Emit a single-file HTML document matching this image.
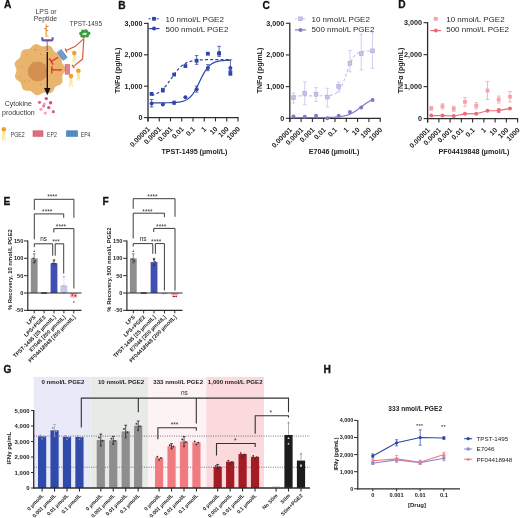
<!DOCTYPE html>
<html><head><meta charset="utf-8"><style>
html,body{margin:0;padding:0;background:#fff;}
svg{display:block;font-family:'Liberation Sans',Arial,sans-serif;}
</style></head><body>
<svg width="520" height="518" viewBox="0 0 520 518">
<rect width="520" height="518" fill="#fff"/>
<text x="3.90" y="8.20" font-size="10.2" font-weight="bold" text-anchor="start" fill="#111" stroke="#111" stroke-width="0.3">A</text>
<text x="118.20" y="9.00" font-size="10.2" font-weight="bold" text-anchor="start" fill="#111" stroke="#111" stroke-width="0.3">B</text>
<text x="262.40" y="9.00" font-size="10.2" font-weight="bold" text-anchor="start" fill="#111" stroke="#111" stroke-width="0.3">C</text>
<text x="398.20" y="8.20" font-size="10.2" font-weight="bold" text-anchor="start" fill="#111" stroke="#111" stroke-width="0.3">D</text>
<text x="3.60" y="204.90" font-size="10.2" font-weight="bold" text-anchor="start" fill="#111" stroke="#111" stroke-width="0.3">E</text>
<text x="102.60" y="204.90" font-size="10.2" font-weight="bold" text-anchor="start" fill="#111" stroke="#111" stroke-width="0.3">F</text>
<text x="3.60" y="373.40" font-size="10.2" font-weight="bold" text-anchor="start" fill="#111" stroke="#111" stroke-width="0.3">G</text>
<text x="323.60" y="373.40" font-size="10.2" font-weight="bold" text-anchor="start" fill="#111" stroke="#111" stroke-width="0.3">H</text>
<text x="46.00" y="13.50" font-size="6.9" font-weight="normal" text-anchor="middle" fill="#3c3c3c">LPS or</text>
<text x="45.40" y="20.90" font-size="6.9" font-weight="normal" text-anchor="middle" fill="#3c3c3c">Peptide</text>
<text x="85.80" y="26.10" font-size="6.4" font-weight="normal" text-anchor="middle" fill="#3c3c3c">TPST-1495</text>
<path d="M65.59,69.60 L65.35,70.49 L64.94,71.36 L64.41,72.19 L63.84,72.98 L63.28,73.74 L62.81,74.49 L62.47,75.25 L62.28,76.05 L62.22,76.89 L62.28,77.78 L62.39,78.73 L62.49,79.70 L62.53,80.68 L62.43,81.63 L62.16,82.51 L61.71,83.29 L61.08,83.95 L60.31,84.50 L59.44,84.94 L58.52,85.31 L57.63,85.65 L56.80,86.01 L56.06,86.44 L55.43,86.96 L54.90,87.59 L54.44,88.34 L54.02,89.18 L53.60,90.05 L53.12,90.91 L52.56,91.70 L51.90,92.35 L51.13,92.83 L50.27,93.12 L49.35,93.23 L48.38,93.17 L47.41,93.01 L46.46,92.81 L45.54,92.64 L44.68,92.55 L43.85,92.60 L43.06,92.79 L42.27,93.13 L41.48,93.58 L40.65,94.08 L39.80,94.57 L38.91,94.97 L38.01,95.23 L37.10,95.30 L36.21,95.16 L35.36,94.81 L34.55,94.29 L33.80,93.66 L33.10,92.97 L32.42,92.31 L31.75,91.73 L31.04,91.27 L30.29,90.95 L29.47,90.77 L28.59,90.69 L27.64,90.66 L26.66,90.63 L25.68,90.53 L24.75,90.31 L23.91,89.94 L23.19,89.39 L22.61,88.69 L22.17,87.86 L21.84,86.94 L21.60,85.98 L21.39,85.05 L21.16,84.16 L20.86,83.36 L20.44,82.66 L19.90,82.04 L19.23,81.48 L18.47,80.94 L17.67,80.40 L16.88,79.81 L16.17,79.15 L15.60,78.41 L15.22,77.59 L15.03,76.70 L15.05,75.77 L15.22,74.82 L15.51,73.88 L15.85,72.97 L16.15,72.09 L16.37,71.24 L16.46,70.42 L16.39,69.60 L16.18,68.78 L15.86,67.93 L15.48,67.04 L15.12,66.13 L14.83,65.20 L14.69,64.26 L14.73,63.35 L14.98,62.48 L15.43,61.68 L16.05,60.95 L16.77,60.30 L17.55,59.69 L18.30,59.12 L18.99,58.53 L19.55,57.91 L19.98,57.22 L20.29,56.44 L20.50,55.58 L20.67,54.65 L20.84,53.69 L21.07,52.73 L21.40,51.83 L21.88,51.04 L22.51,50.39 L23.27,49.90 L24.15,49.57 L25.10,49.37 L26.08,49.26 L27.05,49.19 L27.96,49.09 L28.80,48.91 L29.56,48.61 L30.26,48.18 L30.91,47.61 L31.55,46.94 L32.20,46.22 L32.89,45.52 L33.64,44.90 L34.45,44.43 L35.31,44.14 L36.21,44.07 L37.13,44.20 L38.04,44.50 L38.94,44.91 L39.80,45.37 L40.63,45.80 L41.44,46.15 L42.24,46.37 L43.06,46.43 L43.90,46.35 L44.78,46.16 L45.70,45.92 L46.66,45.68 L47.62,45.52 L48.57,45.50 L49.48,45.65 L50.30,46.01 L51.04,46.55 L51.68,47.25 L52.24,48.06 L52.73,48.91 L53.19,49.74 L53.67,50.51 L54.20,51.17 L54.82,51.71 L55.53,52.13 L56.34,52.47 L57.24,52.76 L58.17,53.06 L59.08,53.42 L59.93,53.87 L60.66,54.44 L61.23,55.15 L61.62,55.96 L61.84,56.88 L61.91,57.84 L61.89,58.83 L61.82,59.79 L61.79,60.72 L61.83,61.58 L62.01,62.38 L62.33,63.14 L62.78,63.87 L63.35,64.59 L63.97,65.34 L64.57,66.12 L65.08,66.94 L65.45,67.81 L65.63,68.70 L65.59,69.60Z" fill="#e9b56c"/>
<circle cx="40.91" cy="84.27" r="0.55" fill="#c27e40"/>
<circle cx="29.08" cy="81.02" r="0.55" fill="#c27e40"/>
<circle cx="34.84" cy="64.59" r="0.55" fill="#c27e40"/>
<circle cx="59.13" cy="71.20" r="0.55" fill="#c27e40"/>
<circle cx="39.23" cy="79.33" r="0.55" fill="#c27e40"/>
<circle cx="53.32" cy="69.23" r="0.55" fill="#c27e40"/>
<circle cx="46.84" cy="57.94" r="0.55" fill="#c27e40"/>
<circle cx="34.40" cy="63.15" r="0.55" fill="#c27e40"/>
<circle cx="26.63" cy="54.69" r="0.55" fill="#c27e40"/>
<circle cx="22.13" cy="67.01" r="0.55" fill="#c27e40"/>
<circle cx="36.47" cy="63.41" r="0.55" fill="#c27e40"/>
<circle cx="40.60" cy="54.16" r="0.55" fill="#c27e40"/>
<circle cx="37.74" cy="75.76" r="0.55" fill="#c27e40"/>
<circle cx="48.80" cy="59.46" r="0.55" fill="#c27e40"/>
<circle cx="35.90" cy="49.92" r="0.55" fill="#c27e40"/>
<circle cx="35.17" cy="49.39" r="0.55" fill="#c27e40"/>
<circle cx="24.94" cy="81.13" r="0.55" fill="#c27e40"/>
<circle cx="20.09" cy="76.75" r="0.55" fill="#c27e40"/>
<circle cx="45.27" cy="64.39" r="0.55" fill="#c27e40"/>
<circle cx="46.02" cy="76.74" r="0.55" fill="#c27e40"/>
<circle cx="52.47" cy="66.81" r="0.55" fill="#c27e40"/>
<circle cx="32.23" cy="61.87" r="0.55" fill="#c27e40"/>
<circle cx="37.60" cy="71.40" r="9.90" fill="#d48f52"/>
<line x1="47.20" y1="40.50" x2="47.20" y2="51.00" stroke="#55487a" stroke-width="0.8"/>
<path d="M41.3,37.2 L41.3,39.6 Q41.3,41.6 43.5,41.6 L51.2,41.6 Q53.6,41.6 53.6,39.6 L53.6,37.2 L51.6,37.2 L51.6,39.2 L43.3,39.2 L43.3,37.2 Z" fill="#6e4fae"/>
<path d="M46.2,24.5 L46.2,37" stroke="#e8a040" stroke-width="1.3"/>
<path d="M46.2,26.5 L48.6,26.5 M44,28.7 L46.2,28.7 M46.2,30.6 L48.2,30.6" stroke="#d07830" stroke-width="0.9"/>
<path d="M46.2,33 Q46.2,36.4 48.6,36.2" stroke="#f0c860" stroke-width="1.2" fill="none"/>
<line x1="47.30" y1="52.00" x2="47.30" y2="89.00" stroke="#111" stroke-width="1.3"/>
<polygon points="44.1,88 50.5,88 47.3,95.3" fill="#111"/>
<path d="M58.3,57.2 L51.2,61.5 M49.3,58.4 L53.1,64.6" stroke="#e3262b" stroke-width="1.2" fill="none"/>
<path d="M62,69.9 L51.8,69.9 M51.8,66.4 L51.8,73.4" stroke="#e3262b" stroke-width="1.2" fill="none"/>
<g transform="translate(62.3,54.9) rotate(-37)"><rect x="-2.6" y="-5.3" width="5.2" height="10.6" fill="#3f7cbc"/><line x1="-1.56" y1="-5.3" x2="-1.56" y2="5.3" stroke="#b4d0ec" stroke-width="0.5"/><line x1="-0.52" y1="-5.3" x2="-0.52" y2="5.3" stroke="#b4d0ec" stroke-width="0.5"/><line x1="0.52" y1="-5.3" x2="0.52" y2="5.3" stroke="#b4d0ec" stroke-width="0.5"/><line x1="1.56" y1="-5.3" x2="1.56" y2="5.3" stroke="#b4d0ec" stroke-width="0.5"/><rect x="-2.6" y="-5.8" width="5.2" height="1.0" fill="#a8c8e8"/></g>
<g transform="translate(67.35,69.3)"><rect x="-2.45" y="-5.3" width="4.9" height="10.6" fill="#d05a6a"/><line x1="-1.47" y1="-5.3" x2="-1.47" y2="5.3" stroke="#f4b8c0" stroke-width="0.5"/><line x1="-0.49" y1="-5.3" x2="-0.49" y2="5.3" stroke="#f4b8c0" stroke-width="0.5"/><line x1="0.49" y1="-5.3" x2="0.49" y2="5.3" stroke="#f4b8c0" stroke-width="0.5"/><line x1="1.47" y1="-5.3" x2="1.47" y2="5.3" stroke="#f4b8c0" stroke-width="0.5"/></g>
<path d="M83.8,38.6 L75.5,46.2 L66.0,50.6" stroke="#e0532a" stroke-width="1.15" fill="none" stroke-linejoin="round"/>
<path d="M65.2,48.6 L66.9,52.6" stroke="#e0532a" stroke-width="1.2" fill="none"/>
<path d="M83.8,38.6 L82.6,59.0 L73.2,66.6" stroke="#e0532a" stroke-width="1.15" fill="none" stroke-linejoin="round"/>
<path d="M71.9,64.9 L74.3,68.2" stroke="#e0532a" stroke-width="1.2" fill="none"/>
<circle cx="80.90" cy="33.60" r="1.80" fill="#3a9a3a"/>
<circle cx="83.00" cy="31.40" r="1.90" fill="#3a9a3a"/>
<circle cx="86.00" cy="31.20" r="1.90" fill="#3a9a3a"/>
<circle cx="88.60" cy="33.20" r="1.80" fill="#3a9a3a"/>
<circle cx="87.20" cy="35.80" r="1.80" fill="#3a9a3a"/>
<circle cx="84.00" cy="36.20" r="1.80" fill="#3a9a3a"/>
<circle cx="81.80" cy="35.90" r="1.50" fill="#3a9a3a"/>
<circle cx="84.60" cy="33.70" r="1.00" fill="#cfe8c0"/>
<path d="M73.70,54.60 L72.70,63.10 M74.90,54.60 L75.70,63.10 M74.30,55.10 L74.30,61.60" stroke="#f0dc6c" stroke-width="0.7" fill="none"/>
<circle cx="74.30" cy="53.10" r="2.30" fill="#f0a22c"/>
<path d="M77.80,72.20 L76.80,80.70 M79.00,72.20 L79.80,80.70 M78.40,72.70 L78.40,79.20" stroke="#f0dc6c" stroke-width="0.7" fill="none"/>
<circle cx="78.40" cy="70.70" r="2.30" fill="#f0a22c"/>
<path d="M70.40,77.60 L69.40,87.10 M71.60,77.60 L72.40,87.10 M71.00,78.10 L71.00,85.60" stroke="#f0dc6c" stroke-width="0.7" fill="none"/>
<circle cx="71.00" cy="76.10" r="2.30" fill="#f0a22c"/>
<circle cx="46.30" cy="98.60" r="1.70" fill="#dc4a78"/>
<circle cx="39.50" cy="102.30" r="1.60" fill="#e4668c"/>
<circle cx="50.60" cy="102.70" r="1.70" fill="#dc4a78"/>
<circle cx="44.30" cy="104.00" r="1.50" fill="#eea0b8"/>
<circle cx="43.60" cy="105.90" r="1.50" fill="#e47a9c"/>
<circle cx="48.70" cy="107.60" r="1.70" fill="#dc5580"/>
<circle cx="40.90" cy="109.40" r="1.60" fill="#f0a8c0"/>
<circle cx="45.20" cy="113.10" r="1.60" fill="#f0aac2"/>
<circle cx="53.30" cy="111.70" r="1.60" fill="#e06088"/>
<text x="18.30" y="106.20" font-size="7.0" font-weight="normal" text-anchor="middle" fill="#3a3a3a">Cytokine</text>
<text x="18.40" y="115.20" font-size="7.0" font-weight="normal" text-anchor="middle" fill="#3a3a3a">production</text>
<path d="M3.20,130.70 L2.20,141.20 M4.40,130.70 L5.20,141.20 M3.80,131.20 L3.80,139.70" stroke="#f0dc6c" stroke-width="0.7" fill="none"/>
<circle cx="3.80" cy="129.20" r="2.30" fill="#f0a22c"/>
<text x="10.70" y="136.50" font-size="6.4" font-weight="normal" text-anchor="start" fill="#3a3a3a" textLength="14.0" lengthAdjust="spacingAndGlyphs">PGE2</text>
<g transform="translate(38,133.6)"><rect x="-5.3" y="-3.2" width="10.6" height="6.4" fill="#cf5d6b"/><line x1="-3.98" y1="-3.2" x2="-3.98" y2="3.2" stroke="#f0a8b0" stroke-width="0.35"/><line x1="-2.66" y1="-3.2" x2="-2.66" y2="3.2" stroke="#f0a8b0" stroke-width="0.35"/><line x1="-1.34" y1="-3.2" x2="-1.34" y2="3.2" stroke="#f0a8b0" stroke-width="0.35"/><line x1="-0.02" y1="-3.2" x2="-0.02" y2="3.2" stroke="#f0a8b0" stroke-width="0.35"/><line x1="1.30" y1="-3.2" x2="1.30" y2="3.2" stroke="#f0a8b0" stroke-width="0.35"/><line x1="2.62" y1="-3.2" x2="2.62" y2="3.2" stroke="#f0a8b0" stroke-width="0.35"/><line x1="3.94" y1="-3.2" x2="3.94" y2="3.2" stroke="#f0a8b0" stroke-width="0.35"/></g>
<text x="47.00" y="136.50" font-size="6.4" font-weight="normal" text-anchor="start" fill="#3a3a3a" textLength="9.8" lengthAdjust="spacingAndGlyphs">EP2</text>
<g transform="translate(72,133.6)"><rect x="-5.8" y="-3.2" width="11.6" height="6.4" fill="#3d79b8"/><line x1="-4.35" y1="-3.2" x2="-4.35" y2="3.2" stroke="#9cc0e0" stroke-width="0.35"/><line x1="-2.90" y1="-3.2" x2="-2.90" y2="3.2" stroke="#9cc0e0" stroke-width="0.35"/><line x1="-1.45" y1="-3.2" x2="-1.45" y2="3.2" stroke="#9cc0e0" stroke-width="0.35"/><line x1="0.00" y1="-3.2" x2="0.00" y2="3.2" stroke="#9cc0e0" stroke-width="0.35"/><line x1="1.45" y1="-3.2" x2="1.45" y2="3.2" stroke="#9cc0e0" stroke-width="0.35"/><line x1="2.90" y1="-3.2" x2="2.90" y2="3.2" stroke="#9cc0e0" stroke-width="0.35"/><line x1="4.35" y1="-3.2" x2="4.35" y2="3.2" stroke="#9cc0e0" stroke-width="0.35"/></g>
<text x="80.70" y="136.50" font-size="6.4" font-weight="normal" text-anchor="start" fill="#3a3a3a" textLength="9.8" lengthAdjust="spacingAndGlyphs">EP4</text>
<line x1="148.00" y1="22.80" x2="148.00" y2="121.40" stroke="#2c2c2c" stroke-width="1.3"/>
<line x1="147.40" y1="117.60" x2="238.60" y2="117.60" stroke="#2c2c2c" stroke-width="1.3"/>
<line x1="144.00" y1="117.60" x2="148.00" y2="117.60" stroke="#2c2c2c" stroke-width="1.1"/>
<text x="142.40" y="120.10" font-size="7.2" font-weight="bold" text-anchor="end" fill="#222">0</text>
<line x1="144.00" y1="86.20" x2="148.00" y2="86.20" stroke="#2c2c2c" stroke-width="1.1"/>
<text x="142.40" y="88.70" font-size="7.2" font-weight="bold" text-anchor="end" fill="#222">1,000</text>
<line x1="144.00" y1="54.80" x2="148.00" y2="54.80" stroke="#2c2c2c" stroke-width="1.1"/>
<text x="142.40" y="57.30" font-size="7.2" font-weight="bold" text-anchor="end" fill="#222">2,000</text>
<line x1="144.00" y1="23.40" x2="148.00" y2="23.40" stroke="#2c2c2c" stroke-width="1.1"/>
<text x="142.40" y="25.90" font-size="7.2" font-weight="bold" text-anchor="end" fill="#222">3,000</text>
<line x1="148.00" y1="117.60" x2="148.00" y2="121.40" stroke="#2c2c2c" stroke-width="1.1"/>
<text x="150.60" y="129.60" font-size="7.0" font-weight="bold" text-anchor="end" fill="#222" transform="rotate(-45 150.60 129.60)">0.00001</text>
<line x1="159.25" y1="117.60" x2="159.25" y2="121.40" stroke="#2c2c2c" stroke-width="1.1"/>
<text x="161.85" y="129.60" font-size="7.0" font-weight="bold" text-anchor="end" fill="#222" transform="rotate(-45 161.85 129.60)">0.0001</text>
<line x1="170.50" y1="117.60" x2="170.50" y2="121.40" stroke="#2c2c2c" stroke-width="1.1"/>
<text x="173.10" y="129.60" font-size="7.0" font-weight="bold" text-anchor="end" fill="#222" transform="rotate(-45 173.10 129.60)">0.001</text>
<line x1="181.75" y1="117.60" x2="181.75" y2="121.40" stroke="#2c2c2c" stroke-width="1.1"/>
<text x="184.35" y="129.60" font-size="7.0" font-weight="bold" text-anchor="end" fill="#222" transform="rotate(-45 184.35 129.60)">0.01</text>
<line x1="193.00" y1="117.60" x2="193.00" y2="121.40" stroke="#2c2c2c" stroke-width="1.1"/>
<text x="195.60" y="129.60" font-size="7.0" font-weight="bold" text-anchor="end" fill="#222" transform="rotate(-45 195.60 129.60)">0.1</text>
<line x1="204.25" y1="117.60" x2="204.25" y2="121.40" stroke="#2c2c2c" stroke-width="1.1"/>
<text x="206.85" y="129.60" font-size="7.0" font-weight="bold" text-anchor="end" fill="#222" transform="rotate(-45 206.85 129.60)">1</text>
<line x1="215.50" y1="117.60" x2="215.50" y2="121.40" stroke="#2c2c2c" stroke-width="1.1"/>
<text x="218.10" y="129.60" font-size="7.0" font-weight="bold" text-anchor="end" fill="#222" transform="rotate(-45 218.10 129.60)">10</text>
<line x1="226.75" y1="117.60" x2="226.75" y2="121.40" stroke="#2c2c2c" stroke-width="1.1"/>
<text x="229.35" y="129.60" font-size="7.0" font-weight="bold" text-anchor="end" fill="#222" transform="rotate(-45 229.35 129.60)">100</text>
<line x1="238.00" y1="117.60" x2="238.00" y2="121.40" stroke="#2c2c2c" stroke-width="1.1"/>
<text x="240.60" y="129.60" font-size="7.0" font-weight="bold" text-anchor="end" fill="#222" transform="rotate(-45 240.60 129.60)">1000</text>
<text x="194.50" y="154.20" font-size="7.15" font-weight="bold" text-anchor="middle" fill="#222">TPST-1495 (&#181;mol/L)</text>
<text x="119.60" y="70.50" font-size="7.0" font-weight="bold" text-anchor="middle" fill="#222" transform="rotate(-90 119.60 70.50)">TNF&#945; (pg/mL)</text>
<line x1="162.88" y1="88.27" x2="162.88" y2="92.04" stroke="#2f47a6" stroke-width="0.8"/>
<line x1="161.07" y1="88.27" x2="164.68" y2="88.27" stroke="#2f47a6" stroke-width="0.8"/>
<line x1="161.07" y1="92.04" x2="164.68" y2="92.04" stroke="#2f47a6" stroke-width="0.8"/>
<line x1="196.62" y1="55.59" x2="196.62" y2="64.31" stroke="#2f47a6" stroke-width="0.8"/>
<line x1="194.82" y1="55.59" x2="198.43" y2="55.59" stroke="#2f47a6" stroke-width="0.8"/>
<line x1="194.82" y1="64.31" x2="198.43" y2="64.31" stroke="#2f47a6" stroke-width="0.8"/>
<line x1="219.12" y1="46.32" x2="219.12" y2="56.37" stroke="#2f47a6" stroke-width="0.8"/>
<line x1="217.32" y1="46.32" x2="220.93" y2="46.32" stroke="#2f47a6" stroke-width="0.8"/>
<line x1="217.32" y1="56.37" x2="220.93" y2="56.37" stroke="#2f47a6" stroke-width="0.8"/>
<line x1="230.38" y1="71.44" x2="230.38" y2="75.21" stroke="#2f47a6" stroke-width="0.8"/>
<line x1="228.57" y1="71.44" x2="232.18" y2="71.44" stroke="#2f47a6" stroke-width="0.8"/>
<line x1="228.57" y1="75.21" x2="232.18" y2="75.21" stroke="#2f47a6" stroke-width="0.8"/>
<line x1="151.62" y1="99.54" x2="151.62" y2="106.92" stroke="#2f47a6" stroke-width="0.8"/>
<line x1="149.82" y1="99.54" x2="153.43" y2="99.54" stroke="#2f47a6" stroke-width="0.8"/>
<line x1="149.82" y1="106.92" x2="153.43" y2="106.92" stroke="#2f47a6" stroke-width="0.8"/>
<line x1="174.12" y1="101.11" x2="174.12" y2="104.25" stroke="#2f47a6" stroke-width="0.8"/>
<line x1="172.32" y1="101.11" x2="175.93" y2="101.11" stroke="#2f47a6" stroke-width="0.8"/>
<line x1="172.32" y1="104.25" x2="175.93" y2="104.25" stroke="#2f47a6" stroke-width="0.8"/>
<line x1="196.62" y1="86.11" x2="196.62" y2="92.10" stroke="#2f47a6" stroke-width="0.8"/>
<line x1="194.82" y1="86.11" x2="198.43" y2="86.11" stroke="#2f47a6" stroke-width="0.8"/>
<line x1="194.82" y1="92.10" x2="198.43" y2="92.10" stroke="#2f47a6" stroke-width="0.8"/>
<line x1="207.88" y1="64.60" x2="207.88" y2="70.69" stroke="#2f47a6" stroke-width="0.8"/>
<line x1="206.07" y1="64.60" x2="209.68" y2="64.60" stroke="#2f47a6" stroke-width="0.8"/>
<line x1="206.07" y1="70.69" x2="209.68" y2="70.69" stroke="#2f47a6" stroke-width="0.8"/>
<line x1="230.38" y1="59.82" x2="230.38" y2="70.50" stroke="#2f47a6" stroke-width="0.8"/>
<line x1="228.57" y1="59.82" x2="232.18" y2="59.82" stroke="#2f47a6" stroke-width="0.8"/>
<line x1="228.57" y1="70.50" x2="232.18" y2="70.50" stroke="#2f47a6" stroke-width="0.8"/>
<path d="M151.62,95.44 L152.19,95.29 L152.75,95.13 L153.31,94.95 L153.88,94.76 L154.44,94.56 L155.00,94.34 L155.56,94.11 L156.12,93.85 L156.69,93.58 L157.25,93.29 L157.81,92.98 L158.38,92.64 L158.94,92.29 L159.50,91.91 L160.06,91.50 L160.62,91.07 L161.19,90.62 L161.75,90.13 L162.31,89.63 L162.88,89.09 L163.44,88.53 L164.00,87.94 L164.56,87.32 L165.12,86.68 L165.69,86.01 L166.25,85.32 L166.81,84.61 L167.38,83.88 L167.94,83.12 L168.50,82.35 L169.06,81.57 L169.62,80.78 L170.19,79.97 L170.75,79.16 L171.31,78.35 L171.88,77.54 L172.44,76.73 L173.00,75.92 L173.56,75.13 L174.12,74.35 L174.69,73.58 L175.25,72.82 L175.81,72.09 L176.38,71.38 L176.94,70.69 L177.50,70.02 L178.06,69.38 L178.62,68.76 L179.19,68.17 L179.75,67.61 L180.31,67.07 L180.88,66.57 L181.44,66.08 L182.00,65.63 L182.56,65.20 L183.12,64.79 L183.69,64.41 L184.25,64.06 L184.81,63.72 L185.38,63.41 L185.94,63.12 L186.50,62.85 L187.06,62.59 L187.62,62.36 L188.19,62.14 L188.75,61.94 L189.31,61.75 L189.88,61.57 L190.44,61.41 L191.00,61.26 L191.56,61.12 L192.12,60.99 L192.69,60.87 L193.25,60.77 L193.81,60.67 L194.38,60.57 L194.94,60.49 L195.50,60.41 L196.06,60.34 L196.62,60.27 L197.19,60.21 L197.75,60.15 L198.31,60.10 L198.88,60.05 L199.44,60.01 L200.00,59.97 L200.56,59.93 L201.12,59.89 L201.69,59.86 L202.25,59.83 L202.81,59.81 L203.38,59.78 L203.94,59.76 L204.50,59.74 L205.06,59.72 L205.62,59.70 L206.19,59.69 L206.75,59.67 L207.31,59.66 L207.88,59.65 L208.44,59.64 L209.00,59.63 L209.56,59.62 L210.12,59.61 L210.69,59.60 L211.25,59.59 L211.81,59.59 L212.38,59.58 L212.94,59.57 L213.50,59.57 L214.06,59.56 L214.62,59.56 L215.19,59.55 L215.75,59.55 L216.31,59.55 L216.88,59.54 L217.44,59.54 L218.00,59.54 L218.56,59.54 L219.12,59.53 L219.69,59.53 L220.25,59.53 L220.81,59.53 L221.38,59.53 L221.94,59.53 L222.50,59.52 L223.06,59.52 L223.62,59.52 L224.19,59.52 L224.75,59.52 L225.31,59.52 L225.88,59.52 L226.44,59.52 L227.00,59.52 L227.56,59.52 L228.12,59.52 L228.69,59.52 L229.25,59.52 L229.81,59.51 L230.38,59.51" fill="none" stroke="#2f47a6" stroke-width="1.2" stroke-dasharray="3,2.2"/>
<path d="M151.62,102.84 L152.19,102.84 L152.75,102.84 L153.31,102.84 L153.88,102.84 L154.44,102.84 L155.00,102.83 L155.56,102.83 L156.12,102.83 L156.69,102.83 L157.25,102.83 L157.81,102.83 L158.38,102.83 L158.94,102.83 L159.50,102.82 L160.06,102.82 L160.62,102.82 L161.19,102.82 L161.75,102.82 L162.31,102.81 L162.88,102.81 L163.44,102.80 L164.00,102.80 L164.56,102.80 L165.12,102.79 L165.69,102.78 L166.25,102.78 L166.81,102.77 L167.38,102.76 L167.94,102.75 L168.50,102.74 L169.06,102.73 L169.62,102.72 L170.19,102.70 L170.75,102.69 L171.31,102.67 L171.88,102.65 L172.44,102.63 L173.00,102.60 L173.56,102.58 L174.12,102.55 L174.69,102.51 L175.25,102.47 L175.81,102.43 L176.38,102.39 L176.94,102.33 L177.50,102.28 L178.06,102.21 L178.62,102.14 L179.19,102.06 L179.75,101.97 L180.31,101.87 L180.88,101.76 L181.44,101.64 L182.00,101.51 L182.56,101.36 L183.12,101.19 L183.69,101.01 L184.25,100.81 L184.81,100.59 L185.38,100.34 L185.94,100.07 L186.50,99.78 L187.06,99.45 L187.62,99.09 L188.19,98.70 L188.75,98.27 L189.31,97.81 L189.88,97.30 L190.44,96.75 L191.00,96.16 L191.56,95.52 L192.12,94.83 L192.69,94.09 L193.25,93.31 L193.81,92.47 L194.38,91.59 L194.94,90.66 L195.50,89.69 L196.06,88.67 L196.62,87.62 L197.19,86.53 L197.75,85.41 L198.31,84.28 L198.88,83.12 L199.44,81.96 L200.00,80.79 L200.56,79.63 L201.12,78.47 L201.69,77.34 L202.25,76.23 L202.81,75.15 L203.38,74.10 L203.94,73.09 L204.50,72.13 L205.06,71.21 L205.62,70.34 L206.19,69.51 L206.75,68.73 L207.31,68.01 L207.88,67.33 L208.44,66.70 L209.00,66.12 L209.56,65.57 L210.12,65.08 L210.69,64.62 L211.25,64.20 L211.81,63.81 L212.38,63.46 L212.94,63.14 L213.50,62.85 L214.06,62.59 L214.62,62.35 L215.19,62.13 L215.75,61.93 L216.31,61.75 L216.88,61.59 L217.44,61.44 L218.00,61.31 L218.56,61.19 L219.12,61.09 L219.69,60.99 L220.25,60.90 L220.81,60.83 L221.38,60.76 L221.94,60.69 L222.50,60.64 L223.06,60.58 L223.62,60.54 L224.19,60.50 L224.75,60.46 L225.31,60.43 L225.88,60.40 L226.44,60.37 L227.00,60.35 L227.56,60.33 L228.12,60.31 L228.69,60.29 L229.25,60.27 L229.81,60.26 L230.38,60.25" fill="none" stroke="#2f47a6" stroke-width="1.2"/>
<rect x="149.72" y="91.99" width="3.80" height="3.80" fill="#2f47a6"/>
<rect x="160.97" y="88.26" width="3.80" height="3.80" fill="#2f47a6"/>
<rect x="172.22" y="72.65" width="3.80" height="3.80" fill="#2f47a6"/>
<rect x="183.47" y="64.14" width="3.80" height="3.80" fill="#2f47a6"/>
<rect x="194.72" y="58.83" width="3.80" height="3.80" fill="#2f47a6"/>
<rect x="205.97" y="51.80" width="3.80" height="3.80" fill="#2f47a6"/>
<rect x="217.22" y="51.61" width="3.80" height="3.80" fill="#2f47a6"/>
<rect x="228.47" y="71.46" width="3.80" height="3.80" fill="#2f47a6"/>
<circle cx="151.62" cy="103.47" r="2.00" fill="#2f47a6"/>
<circle cx="162.88" cy="104.38" r="2.00" fill="#2f47a6"/>
<circle cx="174.12" cy="102.69" r="2.00" fill="#2f47a6"/>
<circle cx="185.38" cy="97.16" r="2.00" fill="#2f47a6"/>
<circle cx="196.62" cy="89.21" r="2.00" fill="#2f47a6"/>
<circle cx="207.88" cy="67.93" r="2.00" fill="#2f47a6"/>
<circle cx="219.12" cy="53.01" r="2.00" fill="#2f47a6"/>
<circle cx="230.38" cy="67.99" r="2.00" fill="#2f47a6"/>
<line x1="148.50" y1="18.8" x2="159.50" y2="18.8" stroke="#2f47a6" stroke-width="1.1" stroke-dasharray="2.2,1.8"/>
<rect x="152.10" y="16.90" width="3.80" height="3.80" fill="#2f47a6"/>
<line x1="148.50" y1="28.60" x2="159.50" y2="28.60" stroke="#2f47a6" stroke-width="1.2"/>
<circle cx="154.00" cy="28.60" r="2.00" fill="#2f47a6"/>
<text x="165.50" y="21.70" font-size="8.0" font-weight="normal" text-anchor="start" fill="#2a2a2a">10 nmol/L PGE2</text>
<text x="165.50" y="31.60" font-size="8.0" font-weight="normal" text-anchor="start" fill="#2a2a2a">500 nmol/L PGE2</text>
<line x1="289.80" y1="22.69" x2="289.80" y2="122.10" stroke="#2c2c2c" stroke-width="1.3"/>
<line x1="289.20" y1="118.30" x2="380.80" y2="118.30" stroke="#2c2c2c" stroke-width="1.3"/>
<line x1="285.80" y1="118.30" x2="289.80" y2="118.30" stroke="#2c2c2c" stroke-width="1.1"/>
<text x="284.20" y="120.80" font-size="7.2" font-weight="bold" text-anchor="end" fill="#222">0</text>
<line x1="285.80" y1="86.63" x2="289.80" y2="86.63" stroke="#2c2c2c" stroke-width="1.1"/>
<text x="284.20" y="89.13" font-size="7.2" font-weight="bold" text-anchor="end" fill="#222">1,000</text>
<line x1="285.80" y1="54.96" x2="289.80" y2="54.96" stroke="#2c2c2c" stroke-width="1.1"/>
<text x="284.20" y="57.46" font-size="7.2" font-weight="bold" text-anchor="end" fill="#222">2,000</text>
<line x1="285.80" y1="23.29" x2="289.80" y2="23.29" stroke="#2c2c2c" stroke-width="1.1"/>
<text x="284.20" y="25.79" font-size="7.2" font-weight="bold" text-anchor="end" fill="#222">3,000</text>
<line x1="289.80" y1="118.30" x2="289.80" y2="122.10" stroke="#2c2c2c" stroke-width="1.1"/>
<text x="292.40" y="130.30" font-size="7.0" font-weight="bold" text-anchor="end" fill="#222" transform="rotate(-45 292.40 130.30)">0.00001</text>
<line x1="301.10" y1="118.30" x2="301.10" y2="122.10" stroke="#2c2c2c" stroke-width="1.1"/>
<text x="303.70" y="130.30" font-size="7.0" font-weight="bold" text-anchor="end" fill="#222" transform="rotate(-45 303.70 130.30)">0.0001</text>
<line x1="312.40" y1="118.30" x2="312.40" y2="122.10" stroke="#2c2c2c" stroke-width="1.1"/>
<text x="315.00" y="130.30" font-size="7.0" font-weight="bold" text-anchor="end" fill="#222" transform="rotate(-45 315.00 130.30)">0.001</text>
<line x1="323.70" y1="118.30" x2="323.70" y2="122.10" stroke="#2c2c2c" stroke-width="1.1"/>
<text x="326.30" y="130.30" font-size="7.0" font-weight="bold" text-anchor="end" fill="#222" transform="rotate(-45 326.30 130.30)">0.01</text>
<line x1="335.00" y1="118.30" x2="335.00" y2="122.10" stroke="#2c2c2c" stroke-width="1.1"/>
<text x="337.60" y="130.30" font-size="7.0" font-weight="bold" text-anchor="end" fill="#222" transform="rotate(-45 337.60 130.30)">0.1</text>
<line x1="346.30" y1="118.30" x2="346.30" y2="122.10" stroke="#2c2c2c" stroke-width="1.1"/>
<text x="348.90" y="130.30" font-size="7.0" font-weight="bold" text-anchor="end" fill="#222" transform="rotate(-45 348.90 130.30)">1</text>
<line x1="357.60" y1="118.30" x2="357.60" y2="122.10" stroke="#2c2c2c" stroke-width="1.1"/>
<text x="360.20" y="130.30" font-size="7.0" font-weight="bold" text-anchor="end" fill="#222" transform="rotate(-45 360.20 130.30)">10</text>
<line x1="368.90" y1="118.30" x2="368.90" y2="122.10" stroke="#2c2c2c" stroke-width="1.1"/>
<text x="371.50" y="130.30" font-size="7.0" font-weight="bold" text-anchor="end" fill="#222" transform="rotate(-45 371.50 130.30)">100</text>
<line x1="380.20" y1="118.30" x2="380.20" y2="122.10" stroke="#2c2c2c" stroke-width="1.1"/>
<text x="382.80" y="130.30" font-size="7.0" font-weight="bold" text-anchor="end" fill="#222" transform="rotate(-45 382.80 130.30)">1000</text>
<text x="334.00" y="154.20" font-size="7.15" font-weight="bold" text-anchor="middle" fill="#222">E7046 (&#181;mol/L)</text>
<text x="262.20" y="70.50" font-size="7.0" font-weight="bold" text-anchor="middle" fill="#222" transform="rotate(-90 262.20 70.50)">TNF&#945; (pg/mL)</text>
<line x1="293.44" y1="92.96" x2="293.44" y2="103.10" stroke="#c6c3ea" stroke-width="0.8"/>
<line x1="291.64" y1="92.96" x2="295.24" y2="92.96" stroke="#c6c3ea" stroke-width="0.8"/>
<line x1="291.64" y1="103.10" x2="295.24" y2="103.10" stroke="#c6c3ea" stroke-width="0.8"/>
<line x1="304.74" y1="81.88" x2="304.74" y2="104.68" stroke="#c6c3ea" stroke-width="0.8"/>
<line x1="302.94" y1="81.88" x2="306.54" y2="81.88" stroke="#c6c3ea" stroke-width="0.8"/>
<line x1="302.94" y1="104.68" x2="306.54" y2="104.68" stroke="#c6c3ea" stroke-width="0.8"/>
<line x1="316.04" y1="87.58" x2="316.04" y2="101.51" stroke="#c6c3ea" stroke-width="0.8"/>
<line x1="314.24" y1="87.58" x2="317.84" y2="87.58" stroke="#c6c3ea" stroke-width="0.8"/>
<line x1="314.24" y1="101.51" x2="317.84" y2="101.51" stroke="#c6c3ea" stroke-width="0.8"/>
<line x1="327.34" y1="88.21" x2="327.34" y2="106.90" stroke="#c6c3ea" stroke-width="0.8"/>
<line x1="325.54" y1="88.21" x2="329.14" y2="88.21" stroke="#c6c3ea" stroke-width="0.8"/>
<line x1="325.54" y1="106.90" x2="329.14" y2="106.90" stroke="#c6c3ea" stroke-width="0.8"/>
<line x1="338.64" y1="82.20" x2="338.64" y2="92.01" stroke="#c6c3ea" stroke-width="0.8"/>
<line x1="336.84" y1="82.20" x2="340.44" y2="82.20" stroke="#c6c3ea" stroke-width="0.8"/>
<line x1="336.84" y1="92.01" x2="340.44" y2="92.01" stroke="#c6c3ea" stroke-width="0.8"/>
<line x1="349.94" y1="50.53" x2="349.94" y2="71.75" stroke="#c6c3ea" stroke-width="0.8"/>
<line x1="348.14" y1="50.53" x2="351.74" y2="50.53" stroke="#c6c3ea" stroke-width="0.8"/>
<line x1="348.14" y1="71.75" x2="351.74" y2="71.75" stroke="#c6c3ea" stroke-width="0.8"/>
<line x1="361.24" y1="34.37" x2="361.24" y2="69.84" stroke="#c6c3ea" stroke-width="0.8"/>
<line x1="359.44" y1="34.37" x2="363.04" y2="34.37" stroke="#c6c3ea" stroke-width="0.8"/>
<line x1="359.44" y1="69.84" x2="363.04" y2="69.84" stroke="#c6c3ea" stroke-width="0.8"/>
<line x1="372.54" y1="32.79" x2="372.54" y2="68.26" stroke="#c6c3ea" stroke-width="0.8"/>
<line x1="370.74" y1="32.79" x2="374.34" y2="32.79" stroke="#c6c3ea" stroke-width="0.8"/>
<line x1="370.74" y1="68.26" x2="374.34" y2="68.26" stroke="#c6c3ea" stroke-width="0.8"/>
<path d="M293.44,95.81 L294.00,95.81 L294.57,95.81 L295.13,95.81 L295.70,95.81 L296.26,95.81 L296.83,95.81 L297.39,95.81 L297.96,95.81 L298.53,95.81 L299.09,95.81 L299.66,95.81 L300.22,95.81 L300.79,95.81 L301.35,95.81 L301.92,95.81 L302.48,95.81 L303.05,95.81 L303.61,95.81 L304.18,95.81 L304.74,95.81 L305.31,95.81 L305.87,95.81 L306.44,95.81 L307.00,95.81 L307.56,95.81 L308.13,95.81 L308.69,95.81 L309.26,95.81 L309.82,95.81 L310.39,95.81 L310.95,95.81 L311.52,95.81 L312.09,95.81 L312.65,95.81 L313.22,95.81 L313.78,95.81 L314.35,95.81 L314.91,95.80 L315.48,95.80 L316.04,95.80 L316.61,95.80 L317.17,95.80 L317.74,95.79 L318.30,95.79 L318.87,95.78 L319.43,95.78 L320.00,95.77 L320.56,95.77 L321.12,95.76 L321.69,95.75 L322.25,95.74 L322.82,95.73 L323.38,95.72 L323.95,95.70 L324.51,95.68 L325.08,95.66 L325.64,95.64 L326.21,95.61 L326.78,95.58 L327.34,95.54 L327.91,95.49 L328.47,95.44 L329.04,95.38 L329.60,95.32 L330.17,95.24 L330.73,95.14 L331.30,95.04 L331.86,94.91 L332.43,94.77 L332.99,94.61 L333.56,94.42 L334.12,94.20 L334.69,93.95 L335.25,93.67 L335.81,93.34 L336.38,92.97 L336.95,92.54 L337.51,92.06 L338.08,91.51 L338.64,90.89 L339.21,90.19 L339.77,89.41 L340.34,88.55 L340.90,87.59 L341.47,86.53 L342.03,85.38 L342.60,84.14 L343.16,82.80 L343.73,81.37 L344.29,79.87 L344.86,78.29 L345.42,76.67 L345.99,75.01 L346.55,73.33 L347.12,71.65 L347.68,69.99 L348.25,68.36 L348.81,66.79 L349.38,65.29 L349.94,63.86 L350.50,62.52 L351.07,61.27 L351.63,60.12 L352.20,59.07 L352.76,58.11 L353.33,57.24 L353.90,56.47 L354.46,55.77 L355.03,55.15 L355.59,54.60 L356.16,54.12 L356.72,53.69 L357.29,53.32 L357.85,52.99 L358.42,52.70 L358.98,52.45 L359.55,52.24 L360.11,52.05 L360.68,51.88 L361.24,51.74 L361.81,51.62 L362.37,51.51 L362.94,51.42 L363.50,51.34 L364.06,51.27 L364.63,51.21 L365.20,51.16 L365.76,51.12 L366.33,51.08 L366.89,51.05 L367.46,51.02 L368.02,50.99 L368.59,50.97 L369.15,50.96 L369.72,50.94 L370.28,50.93 L370.85,50.91 L371.41,50.90 L371.98,50.90 L372.54,50.89" fill="none" stroke="#c6c3ea" stroke-width="1.2" stroke-dasharray="3,2.2"/>
<path d="M293.44,117.67 L294.00,117.67 L294.57,117.67 L295.13,117.66 L295.70,117.66 L296.26,117.66 L296.83,117.66 L297.39,117.66 L297.96,117.66 L298.53,117.66 L299.09,117.66 L299.66,117.66 L300.22,117.66 L300.79,117.66 L301.35,117.66 L301.92,117.66 L302.48,117.66 L303.05,117.66 L303.61,117.66 L304.18,117.66 L304.74,117.66 L305.31,117.66 L305.87,117.66 L306.44,117.66 L307.00,117.66 L307.56,117.66 L308.13,117.66 L308.69,117.65 L309.26,117.65 L309.82,117.65 L310.39,117.65 L310.95,117.65 L311.52,117.65 L312.09,117.65 L312.65,117.65 L313.22,117.64 L313.78,117.64 L314.35,117.64 L314.91,117.64 L315.48,117.64 L316.04,117.63 L316.61,117.63 L317.17,117.63 L317.74,117.62 L318.30,117.62 L318.87,117.62 L319.43,117.61 L320.00,117.61 L320.56,117.60 L321.12,117.60 L321.69,117.59 L322.25,117.58 L322.82,117.58 L323.38,117.57 L323.95,117.56 L324.51,117.55 L325.08,117.54 L325.64,117.53 L326.21,117.52 L326.78,117.51 L327.34,117.50 L327.91,117.48 L328.47,117.47 L329.04,117.45 L329.60,117.43 L330.17,117.41 L330.73,117.39 L331.30,117.37 L331.86,117.35 L332.43,117.32 L332.99,117.29 L333.56,117.26 L334.12,117.23 L334.69,117.19 L335.25,117.15 L335.81,117.11 L336.38,117.06 L336.95,117.01 L337.51,116.96 L338.08,116.90 L338.64,116.84 L339.21,116.78 L339.77,116.70 L340.34,116.63 L340.90,116.54 L341.47,116.46 L342.03,116.36 L342.60,116.26 L343.16,116.15 L343.73,116.03 L344.29,115.90 L344.86,115.77 L345.42,115.63 L345.99,115.47 L346.55,115.31 L347.12,115.13 L347.68,114.95 L348.25,114.75 L348.81,114.54 L349.38,114.32 L349.94,114.08 L350.50,113.84 L351.07,113.58 L351.63,113.30 L352.20,113.02 L352.76,112.72 L353.33,112.40 L353.90,112.07 L354.46,111.73 L355.03,111.38 L355.59,111.02 L356.16,110.64 L356.72,110.25 L357.29,109.86 L357.85,109.45 L358.42,109.04 L358.98,108.62 L359.55,108.19 L360.11,107.76 L360.68,107.33 L361.24,106.90 L361.81,106.47 L362.37,106.03 L362.94,105.60 L363.50,105.18 L364.06,104.76 L364.63,104.35 L365.20,103.94 L365.76,103.54 L366.33,103.16 L366.89,102.78 L367.46,102.42 L368.02,102.06 L368.59,101.72 L369.15,101.40 L369.72,101.08 L370.28,100.78 L370.85,100.49 L371.41,100.22 L371.98,99.96 L372.54,99.71" fill="none" stroke="#7d7ac8" stroke-width="1.2"/>
<rect x="291.54" y="95.81" width="3.80" height="3.80" fill="#c6c3ea" stroke="#aaa6da" stroke-width="0.6"/>
<rect x="302.84" y="91.38" width="3.80" height="3.80" fill="#c6c3ea" stroke="#aaa6da" stroke-width="0.6"/>
<rect x="314.14" y="92.33" width="3.80" height="3.80" fill="#c6c3ea" stroke="#aaa6da" stroke-width="0.6"/>
<rect x="325.44" y="95.18" width="3.80" height="3.80" fill="#c6c3ea" stroke="#aaa6da" stroke-width="0.6"/>
<rect x="336.74" y="84.41" width="3.80" height="3.80" fill="#c6c3ea" stroke="#aaa6da" stroke-width="0.6"/>
<rect x="348.04" y="61.29" width="3.80" height="3.80" fill="#c6c3ea" stroke="#aaa6da" stroke-width="0.6"/>
<rect x="359.34" y="51.79" width="3.80" height="3.80" fill="#c6c3ea" stroke="#aaa6da" stroke-width="0.6"/>
<rect x="370.64" y="48.94" width="3.80" height="3.80" fill="#c6c3ea" stroke="#aaa6da" stroke-width="0.6"/>
<circle cx="293.44" cy="116.40" r="2.00" fill="#7d7ac8"/>
<circle cx="304.74" cy="116.72" r="2.00" fill="#7d7ac8"/>
<circle cx="316.04" cy="115.77" r="2.00" fill="#7d7ac8"/>
<circle cx="327.34" cy="118.30" r="2.00" fill="#7d7ac8"/>
<circle cx="338.64" cy="115.77" r="2.00" fill="#7d7ac8"/>
<circle cx="349.94" cy="111.97" r="2.00" fill="#7d7ac8"/>
<circle cx="361.24" cy="107.53" r="2.00" fill="#7d7ac8"/>
<circle cx="372.54" cy="99.93" r="2.00" fill="#7d7ac8"/>
<line x1="295.00" y1="18.8" x2="306.00" y2="18.8" stroke="#c6c3ea" stroke-width="1.1" stroke-dasharray="2.2,1.8"/>
<rect x="298.60" y="16.90" width="3.80" height="3.80" fill="#c6c3ea" stroke="#aaa6da" stroke-width="0.6"/>
<line x1="295.00" y1="29.90" x2="306.00" y2="29.90" stroke="#7d7ac8" stroke-width="1.2"/>
<circle cx="300.50" cy="29.90" r="2.00" fill="#7d7ac8"/>
<text x="311.50" y="21.70" font-size="8.0" font-weight="normal" text-anchor="start" fill="#2a2a2a">10 nmol/L PGE2</text>
<text x="311.50" y="31.60" font-size="8.0" font-weight="normal" text-anchor="start" fill="#2a2a2a">500 nmol/L PGE2</text>
<line x1="427.60" y1="22.06" x2="427.60" y2="122.40" stroke="#2c2c2c" stroke-width="1.3"/>
<line x1="427.00" y1="118.60" x2="518.20" y2="118.60" stroke="#2c2c2c" stroke-width="1.3"/>
<line x1="423.60" y1="118.60" x2="427.60" y2="118.60" stroke="#2c2c2c" stroke-width="1.1"/>
<text x="422.00" y="121.10" font-size="7.2" font-weight="bold" text-anchor="end" fill="#222">0</text>
<line x1="423.60" y1="86.62" x2="427.60" y2="86.62" stroke="#2c2c2c" stroke-width="1.1"/>
<text x="422.00" y="89.12" font-size="7.2" font-weight="bold" text-anchor="end" fill="#222">1,000</text>
<line x1="423.60" y1="54.64" x2="427.60" y2="54.64" stroke="#2c2c2c" stroke-width="1.1"/>
<text x="422.00" y="57.14" font-size="7.2" font-weight="bold" text-anchor="end" fill="#222">2,000</text>
<line x1="423.60" y1="22.66" x2="427.60" y2="22.66" stroke="#2c2c2c" stroke-width="1.1"/>
<text x="422.00" y="25.16" font-size="7.2" font-weight="bold" text-anchor="end" fill="#222">3,000</text>
<line x1="427.60" y1="118.60" x2="427.60" y2="122.40" stroke="#2c2c2c" stroke-width="1.1"/>
<text x="430.20" y="130.60" font-size="7.0" font-weight="bold" text-anchor="end" fill="#222" transform="rotate(-45 430.20 130.60)">0.00001</text>
<line x1="438.85" y1="118.60" x2="438.85" y2="122.40" stroke="#2c2c2c" stroke-width="1.1"/>
<text x="441.45" y="130.60" font-size="7.0" font-weight="bold" text-anchor="end" fill="#222" transform="rotate(-45 441.45 130.60)">0.0001</text>
<line x1="450.10" y1="118.60" x2="450.10" y2="122.40" stroke="#2c2c2c" stroke-width="1.1"/>
<text x="452.70" y="130.60" font-size="7.0" font-weight="bold" text-anchor="end" fill="#222" transform="rotate(-45 452.70 130.60)">0.001</text>
<line x1="461.35" y1="118.60" x2="461.35" y2="122.40" stroke="#2c2c2c" stroke-width="1.1"/>
<text x="463.95" y="130.60" font-size="7.0" font-weight="bold" text-anchor="end" fill="#222" transform="rotate(-45 463.95 130.60)">0.01</text>
<line x1="472.60" y1="118.60" x2="472.60" y2="122.40" stroke="#2c2c2c" stroke-width="1.1"/>
<text x="475.20" y="130.60" font-size="7.0" font-weight="bold" text-anchor="end" fill="#222" transform="rotate(-45 475.20 130.60)">0.1</text>
<line x1="483.85" y1="118.60" x2="483.85" y2="122.40" stroke="#2c2c2c" stroke-width="1.1"/>
<text x="486.45" y="130.60" font-size="7.0" font-weight="bold" text-anchor="end" fill="#222" transform="rotate(-45 486.45 130.60)">1</text>
<line x1="495.10" y1="118.60" x2="495.10" y2="122.40" stroke="#2c2c2c" stroke-width="1.1"/>
<text x="497.70" y="130.60" font-size="7.0" font-weight="bold" text-anchor="end" fill="#222" transform="rotate(-45 497.70 130.60)">10</text>
<line x1="506.35" y1="118.60" x2="506.35" y2="122.40" stroke="#2c2c2c" stroke-width="1.1"/>
<text x="508.95" y="130.60" font-size="7.0" font-weight="bold" text-anchor="end" fill="#222" transform="rotate(-45 508.95 130.60)">100</text>
<line x1="517.60" y1="118.60" x2="517.60" y2="122.40" stroke="#2c2c2c" stroke-width="1.1"/>
<text x="520.20" y="130.60" font-size="7.0" font-weight="bold" text-anchor="end" fill="#222" transform="rotate(-45 520.20 130.60)">1000</text>
<text x="474.00" y="154.20" font-size="7.15" font-weight="bold" text-anchor="middle" fill="#222">PF04419848 (&#181;mol/L)</text>
<text x="402.60" y="70.50" font-size="7.0" font-weight="bold" text-anchor="middle" fill="#222" transform="rotate(-90 402.60 70.50)">TNF&#945; (pg/mL)</text>
<line x1="431.23" y1="106.38" x2="431.23" y2="110.22" stroke="#f4a3aa" stroke-width="0.8"/>
<line x1="429.43" y1="106.38" x2="433.03" y2="106.38" stroke="#f4a3aa" stroke-width="0.8"/>
<line x1="429.43" y1="110.22" x2="433.03" y2="110.22" stroke="#f4a3aa" stroke-width="0.8"/>
<line x1="442.48" y1="103.76" x2="442.48" y2="108.88" stroke="#f4a3aa" stroke-width="0.8"/>
<line x1="440.68" y1="103.76" x2="444.28" y2="103.76" stroke="#f4a3aa" stroke-width="0.8"/>
<line x1="440.68" y1="108.88" x2="444.28" y2="108.88" stroke="#f4a3aa" stroke-width="0.8"/>
<line x1="453.73" y1="106.26" x2="453.73" y2="111.37" stroke="#f4a3aa" stroke-width="0.8"/>
<line x1="451.93" y1="106.26" x2="455.53" y2="106.26" stroke="#f4a3aa" stroke-width="0.8"/>
<line x1="451.93" y1="111.37" x2="455.53" y2="111.37" stroke="#f4a3aa" stroke-width="0.8"/>
<line x1="464.98" y1="97.43" x2="464.98" y2="106.38" stroke="#f4a3aa" stroke-width="0.8"/>
<line x1="463.18" y1="97.43" x2="466.78" y2="97.43" stroke="#f4a3aa" stroke-width="0.8"/>
<line x1="463.18" y1="106.38" x2="466.78" y2="106.38" stroke="#f4a3aa" stroke-width="0.8"/>
<line x1="476.23" y1="102.61" x2="476.23" y2="109.01" stroke="#f4a3aa" stroke-width="0.8"/>
<line x1="474.43" y1="102.61" x2="478.03" y2="102.61" stroke="#f4a3aa" stroke-width="0.8"/>
<line x1="474.43" y1="109.01" x2="478.03" y2="109.01" stroke="#f4a3aa" stroke-width="0.8"/>
<line x1="487.48" y1="81.57" x2="487.48" y2="99.48" stroke="#f4a3aa" stroke-width="0.8"/>
<line x1="485.68" y1="81.57" x2="489.28" y2="81.57" stroke="#f4a3aa" stroke-width="0.8"/>
<line x1="485.68" y1="99.48" x2="489.28" y2="99.48" stroke="#f4a3aa" stroke-width="0.8"/>
<line x1="498.73" y1="96.09" x2="498.73" y2="103.12" stroke="#f4a3aa" stroke-width="0.8"/>
<line x1="496.93" y1="96.09" x2="500.53" y2="96.09" stroke="#f4a3aa" stroke-width="0.8"/>
<line x1="496.93" y1="103.12" x2="500.53" y2="103.12" stroke="#f4a3aa" stroke-width="0.8"/>
<line x1="509.98" y1="91.61" x2="509.98" y2="101.84" stroke="#f4a3aa" stroke-width="0.8"/>
<line x1="508.18" y1="91.61" x2="511.78" y2="91.61" stroke="#f4a3aa" stroke-width="0.8"/>
<line x1="508.18" y1="101.84" x2="511.78" y2="101.84" stroke="#f4a3aa" stroke-width="0.8"/>
<line x1="498.73" y1="108.69" x2="498.73" y2="112.52" stroke="#ee6b74" stroke-width="0.8"/>
<line x1="496.93" y1="108.69" x2="500.53" y2="108.69" stroke="#ee6b74" stroke-width="0.8"/>
<line x1="496.93" y1="112.52" x2="500.53" y2="112.52" stroke="#ee6b74" stroke-width="0.8"/>
<path d="M431.23,115.59 L442.48,115.59 L453.73,116.01 L464.98,113.80 L476.23,113.71 L487.48,110.76 L498.73,110.60 L509.98,108.43" fill="none" stroke="#ee6b74" stroke-width="1.2" stroke-linejoin="round"/>
<rect x="429.33" y="106.40" width="3.80" height="3.80" fill="#f4a3aa"/>
<rect x="440.58" y="104.42" width="3.80" height="3.80" fill="#f4a3aa"/>
<rect x="451.83" y="106.91" width="3.80" height="3.80" fill="#f4a3aa"/>
<rect x="463.08" y="100.01" width="3.80" height="3.80" fill="#f4a3aa"/>
<rect x="474.33" y="103.91" width="3.80" height="3.80" fill="#f4a3aa"/>
<rect x="485.58" y="88.62" width="3.80" height="3.80" fill="#f4a3aa"/>
<rect x="496.83" y="97.70" width="3.80" height="3.80" fill="#f4a3aa"/>
<rect x="508.08" y="94.83" width="3.80" height="3.80" fill="#f4a3aa"/>
<circle cx="431.23" cy="115.59" r="2.00" fill="#ee6b74"/>
<circle cx="442.48" cy="115.59" r="2.00" fill="#ee6b74"/>
<circle cx="453.73" cy="116.01" r="2.00" fill="#ee6b74"/>
<circle cx="464.98" cy="113.80" r="2.00" fill="#ee6b74"/>
<circle cx="476.23" cy="113.71" r="2.00" fill="#ee6b74"/>
<circle cx="487.48" cy="110.76" r="2.00" fill="#ee6b74"/>
<circle cx="498.73" cy="110.60" r="2.00" fill="#ee6b74"/>
<circle cx="509.98" cy="108.43" r="2.00" fill="#ee6b74"/>
<rect x="433.90" y="16.90" width="3.80" height="3.80" fill="#f4a3aa"/>
<line x1="430.30" y1="30.60" x2="441.30" y2="30.60" stroke="#ee6b74" stroke-width="1.2"/>
<circle cx="435.80" cy="30.60" r="2.00" fill="#ee6b74"/>
<text x="446.20" y="21.70" font-size="8.0" font-weight="normal" text-anchor="start" fill="#2a2a2a">10 nmol/L PGE2</text>
<text x="446.20" y="31.60" font-size="8.0" font-weight="normal" text-anchor="start" fill="#2a2a2a">500 nmol/L PGE2</text>
<rect x="30.80" y="258.30" width="6.80" height="34.70" fill="#8e8e8e"/>
<line x1="41.20" y1="293.00" x2="47.00" y2="293.00" stroke="#111" stroke-width="1.3"/>
<rect x="50.60" y="263.16" width="6.80" height="29.84" fill="#414fb2"/>
<rect x="60.50" y="285.37" width="6.80" height="7.63" fill="#c7c4ea"/>
<rect x="70.40" y="293.00" width="6.80" height="4.51" fill="#f6a2aa"/>
<line x1="34.20" y1="253.79" x2="34.20" y2="262.81" stroke="#555" stroke-width="0.7"/>
<line x1="32.90" y1="253.79" x2="35.50" y2="253.79" stroke="#555" stroke-width="0.7"/>
<line x1="32.90" y1="262.81" x2="35.50" y2="262.81" stroke="#555" stroke-width="0.7"/>
<line x1="54.00" y1="261.08" x2="54.00" y2="265.24" stroke="#555" stroke-width="0.7"/>
<line x1="52.70" y1="261.08" x2="55.30" y2="261.08" stroke="#555" stroke-width="0.7"/>
<line x1="52.70" y1="265.24" x2="55.30" y2="265.24" stroke="#555" stroke-width="0.7"/>
<line x1="63.90" y1="276.69" x2="63.90" y2="293.00" stroke="#d8d6f0" stroke-width="0.7"/>
<line x1="62.60" y1="276.69" x2="65.20" y2="276.69" stroke="#d8d6f0" stroke-width="0.7"/>
<line x1="62.60" y1="293.00" x2="65.20" y2="293.00" stroke="#d8d6f0" stroke-width="0.7"/>
<circle cx="34.20" cy="251.36" r="0.75" fill="#222"/>
<circle cx="33.20" cy="258.30" r="0.75" fill="#222"/>
<circle cx="35.20" cy="261.08" r="0.75" fill="#222"/>
<circle cx="34.20" cy="262.46" r="0.75" fill="#222"/>
<polygon points="52.70,259.38 55.30,259.38 54.00,261.58" fill="#222"/>
<circle cx="53.00" cy="263.16" r="0.75" fill="#222"/>
<circle cx="55.00" cy="263.85" r="0.75" fill="#222"/>
<circle cx="63.90" cy="276.69" r="0.75" fill="#9a98c8"/>
<circle cx="63.90" cy="286.06" r="0.75" fill="#9a98c8"/>
<circle cx="63.90" cy="293.00" r="0.75" fill="#9a98c8"/>
<circle cx="72.30" cy="295.08" r="0.75" fill="#a0101c"/>
<circle cx="75.30" cy="295.78" r="0.75" fill="#a0101c"/>
<circle cx="73.80" cy="302.02" r="0.75" fill="#a0101c"/>
<line x1="27.80" y1="293.00" x2="81.50" y2="293.00" stroke="#2c2c2c" stroke-width="1.1"/>
<line x1="27.80" y1="240.45" x2="27.80" y2="310.95" stroke="#2c2c2c" stroke-width="1.2"/>
<line x1="27.20" y1="310.35" x2="81.50" y2="310.35" stroke="#2c2c2c" stroke-width="1.2"/>
<line x1="24.00" y1="240.95" x2="27.80" y2="240.95" stroke="#2c2c2c" stroke-width="1.0"/>
<text x="23.30" y="242.95" font-size="5.6" font-weight="bold" text-anchor="end" fill="#222">150</text>
<line x1="24.00" y1="258.30" x2="27.80" y2="258.30" stroke="#2c2c2c" stroke-width="1.0"/>
<text x="23.30" y="260.30" font-size="5.6" font-weight="bold" text-anchor="end" fill="#222">100</text>
<line x1="24.00" y1="275.65" x2="27.80" y2="275.65" stroke="#2c2c2c" stroke-width="1.0"/>
<text x="23.30" y="277.65" font-size="5.6" font-weight="bold" text-anchor="end" fill="#222">50</text>
<line x1="24.00" y1="293.00" x2="27.80" y2="293.00" stroke="#2c2c2c" stroke-width="1.0"/>
<text x="23.30" y="295.00" font-size="5.6" font-weight="bold" text-anchor="end" fill="#222">0</text>
<line x1="24.00" y1="310.35" x2="27.80" y2="310.35" stroke="#2c2c2c" stroke-width="1.0"/>
<text x="23.30" y="312.35" font-size="5.6" font-weight="bold" text-anchor="end" fill="#222">-50</text>
<line x1="34.20" y1="310.35" x2="34.20" y2="313.35" stroke="#2c2c2c" stroke-width="1.0"/>
<text x="36.10" y="317.55" font-size="5.4" font-weight="bold" text-anchor="end" fill="#222" transform="rotate(-45 36.10 317.55)">LPS</text>
<line x1="44.10" y1="310.35" x2="44.10" y2="313.35" stroke="#2c2c2c" stroke-width="1.0"/>
<text x="46.00" y="317.55" font-size="5.4" font-weight="bold" text-anchor="end" fill="#222" transform="rotate(-45 46.00 317.55)">LPS+PGE2</text>
<line x1="54.00" y1="310.35" x2="54.00" y2="313.35" stroke="#2c2c2c" stroke-width="1.0"/>
<text x="55.90" y="317.55" font-size="5.4" font-weight="bold" text-anchor="end" fill="#222" transform="rotate(-45 55.90 317.55)">TPST-1495 [25 &#181;mol/L]</text>
<line x1="63.90" y1="310.35" x2="63.90" y2="313.35" stroke="#2c2c2c" stroke-width="1.0"/>
<text x="65.80" y="317.55" font-size="5.4" font-weight="bold" text-anchor="end" fill="#222" transform="rotate(-45 65.80 317.55)">E7046 [200 &#181;mol/L]</text>
<line x1="73.80" y1="310.35" x2="73.80" y2="313.35" stroke="#2c2c2c" stroke-width="1.0"/>
<text x="75.70" y="317.55" font-size="5.4" font-weight="bold" text-anchor="end" fill="#222" transform="rotate(-45 75.70 317.55)">PF04418948 [200 &#181;mol/L]</text>
<text x="12.20" y="269.60" font-size="5.9" font-weight="bold" text-anchor="middle" fill="#222" transform="rotate(-90 12.20 269.60)">% Recovery, 10 nmol/L PGE2</text>
<polyline points="34.30,210.00 34.30,199.30 73.90,199.30 73.90,217.80" fill="none" stroke="#333" stroke-width="0.95"/>
<polyline points="34.30,239.30 34.30,213.90 63.70,213.90 63.70,217.80" fill="none" stroke="#333" stroke-width="0.95"/>
<polyline points="53.80,232.40 53.80,228.60 73.90,228.60 73.90,288.50" fill="none" stroke="#333" stroke-width="0.95"/>
<polyline points="34.30,247.20 34.30,243.80 52.70,243.80 52.70,255.70" fill="none" stroke="#333" stroke-width="0.95"/>
<polyline points="55.20,255.70 55.20,243.80 63.70,243.80 63.70,273.50" fill="none" stroke="#333" stroke-width="0.95"/>
<text x="52.30" y="199.23" font-size="6.6" font-weight="normal" text-anchor="middle" fill="#333">****</text>
<text x="47.20" y="214.03" font-size="6.6" font-weight="normal" text-anchor="middle" fill="#333">****</text>
<text x="61.00" y="228.93" font-size="6.6" font-weight="normal" text-anchor="middle" fill="#333">****</text>
<text x="43.50" y="241.00" font-size="6.4" font-weight="normal" text-anchor="middle" fill="#222">ns</text>
<text x="56.00" y="243.83" font-size="6.6" font-weight="normal" text-anchor="middle" fill="#333">***</text>
<rect x="129.90" y="258.30" width="6.80" height="34.70" fill="#8e8e8e"/>
<line x1="140.77" y1="293.00" x2="146.57" y2="293.00" stroke="#111" stroke-width="1.3"/>
<rect x="150.64" y="262.12" width="6.80" height="30.88" fill="#414fb2"/>
<rect x="161.01" y="293.00" width="6.80" height="0.80" fill="#c7c4ea"/>
<rect x="171.38" y="293.00" width="6.80" height="2.43" fill="#f6a2aa"/>
<line x1="133.30" y1="253.79" x2="133.30" y2="262.81" stroke="#555" stroke-width="0.7"/>
<line x1="132.00" y1="253.79" x2="134.60" y2="253.79" stroke="#555" stroke-width="0.7"/>
<line x1="132.00" y1="262.81" x2="134.60" y2="262.81" stroke="#555" stroke-width="0.7"/>
<line x1="154.04" y1="258.30" x2="154.04" y2="265.24" stroke="#555" stroke-width="0.7"/>
<line x1="152.74" y1="258.30" x2="155.34" y2="258.30" stroke="#555" stroke-width="0.7"/>
<line x1="152.74" y1="265.24" x2="155.34" y2="265.24" stroke="#555" stroke-width="0.7"/>
<circle cx="133.30" cy="251.36" r="0.75" fill="#222"/>
<circle cx="132.30" cy="259.34" r="0.75" fill="#222"/>
<circle cx="134.30" cy="261.08" r="0.75" fill="#222"/>
<polygon points="152.74,258.69 155.34,258.69 154.04,260.89" fill="#222"/>
<circle cx="154.04" cy="265.24" r="0.75" fill="#222"/>
<circle cx="155.04" cy="261.77" r="0.75" fill="#222"/>
<circle cx="163.41" cy="293.69" r="0.75" fill="#9a98c8"/>
<circle cx="165.41" cy="293.35" r="0.75" fill="#9a98c8"/>
<circle cx="173.28" cy="296.47" r="0.75" fill="#a0101c"/>
<circle cx="174.78" cy="296.47" r="0.75" fill="#a0101c"/>
<circle cx="176.28" cy="296.47" r="0.75" fill="#a0101c"/>
<line x1="126.90" y1="293.00" x2="182.48" y2="293.00" stroke="#2c2c2c" stroke-width="1.1"/>
<line x1="126.90" y1="240.45" x2="126.90" y2="310.95" stroke="#2c2c2c" stroke-width="1.2"/>
<line x1="126.30" y1="310.35" x2="182.48" y2="310.35" stroke="#2c2c2c" stroke-width="1.2"/>
<line x1="123.10" y1="240.95" x2="126.90" y2="240.95" stroke="#2c2c2c" stroke-width="1.0"/>
<text x="122.40" y="242.95" font-size="5.6" font-weight="bold" text-anchor="end" fill="#222">150</text>
<line x1="123.10" y1="258.30" x2="126.90" y2="258.30" stroke="#2c2c2c" stroke-width="1.0"/>
<text x="122.40" y="260.30" font-size="5.6" font-weight="bold" text-anchor="end" fill="#222">100</text>
<line x1="123.10" y1="275.65" x2="126.90" y2="275.65" stroke="#2c2c2c" stroke-width="1.0"/>
<text x="122.40" y="277.65" font-size="5.6" font-weight="bold" text-anchor="end" fill="#222">50</text>
<line x1="123.10" y1="293.00" x2="126.90" y2="293.00" stroke="#2c2c2c" stroke-width="1.0"/>
<text x="122.40" y="295.00" font-size="5.6" font-weight="bold" text-anchor="end" fill="#222">0</text>
<line x1="123.10" y1="310.35" x2="126.90" y2="310.35" stroke="#2c2c2c" stroke-width="1.0"/>
<text x="122.40" y="312.35" font-size="5.6" font-weight="bold" text-anchor="end" fill="#222">-50</text>
<line x1="133.30" y1="310.35" x2="133.30" y2="313.35" stroke="#2c2c2c" stroke-width="1.0"/>
<text x="135.20" y="317.55" font-size="5.4" font-weight="bold" text-anchor="end" fill="#222" transform="rotate(-45 135.20 317.55)">LPS</text>
<line x1="143.67" y1="310.35" x2="143.67" y2="313.35" stroke="#2c2c2c" stroke-width="1.0"/>
<text x="145.57" y="317.55" font-size="5.4" font-weight="bold" text-anchor="end" fill="#222" transform="rotate(-45 145.57 317.55)">LPS+PGE2</text>
<line x1="154.04" y1="310.35" x2="154.04" y2="313.35" stroke="#2c2c2c" stroke-width="1.0"/>
<text x="155.94" y="317.55" font-size="5.4" font-weight="bold" text-anchor="end" fill="#222" transform="rotate(-45 155.94 317.55)">TPST-1495 [25 &#181;mol/L]</text>
<line x1="164.41" y1="310.35" x2="164.41" y2="313.35" stroke="#2c2c2c" stroke-width="1.0"/>
<text x="166.31" y="317.55" font-size="5.4" font-weight="bold" text-anchor="end" fill="#222" transform="rotate(-45 166.31 317.55)">E7046 [200 &#181;mol/L]</text>
<line x1="174.78" y1="310.35" x2="174.78" y2="313.35" stroke="#2c2c2c" stroke-width="1.0"/>
<text x="176.68" y="317.55" font-size="5.4" font-weight="bold" text-anchor="end" fill="#222" transform="rotate(-45 176.68 317.55)">PF04418948 [200 &#181;mol/L]</text>
<text x="111.30" y="269.60" font-size="5.9" font-weight="bold" text-anchor="middle" fill="#222" transform="rotate(-90 111.30 269.60)">% Recovery, 500 nmol/L PGE2</text>
<polyline points="133.20,208.80 133.20,198.70 175.00,198.70 175.00,216.80" fill="none" stroke="#333" stroke-width="0.95"/>
<polyline points="133.20,238.60 133.20,213.20 164.40,213.20 164.40,217.20" fill="none" stroke="#333" stroke-width="0.95"/>
<polyline points="153.70,232.00 153.70,228.40 175.00,228.40 175.00,290.50" fill="none" stroke="#333" stroke-width="0.95"/>
<polyline points="133.20,246.50 133.20,243.60 152.80,243.60 152.80,253.80" fill="none" stroke="#333" stroke-width="0.95"/>
<polyline points="155.40,253.80 155.40,243.60 164.40,243.60 164.40,290.50" fill="none" stroke="#333" stroke-width="0.95"/>
<text x="152.50" y="199.33" font-size="6.6" font-weight="normal" text-anchor="middle" fill="#333">****</text>
<text x="147.50" y="214.13" font-size="6.6" font-weight="normal" text-anchor="middle" fill="#333">****</text>
<text x="161.20" y="229.03" font-size="6.6" font-weight="normal" text-anchor="middle" fill="#333">****</text>
<text x="143.10" y="240.60" font-size="6.4" font-weight="normal" text-anchor="middle" fill="#222">ns</text>
<text x="156.20" y="243.83" font-size="6.6" font-weight="normal" text-anchor="middle" fill="#333">****</text>
<rect x="33.70" y="376.90" width="56.70" height="111.10" fill="#e9e9f7"/>
<rect x="90.40" y="376.90" width="57.70" height="111.10" fill="#e8eae8"/>
<rect x="148.10" y="376.90" width="58.20" height="111.10" fill="#fdf3f4"/>
<rect x="206.30" y="376.90" width="57.70" height="111.10" fill="#fadadd"/>
<text x="62.90" y="384.30" font-size="6.1" font-weight="bold" text-anchor="middle" fill="#222">0 nmol/L PGE2</text>
<text x="121.10" y="384.30" font-size="6.1" font-weight="bold" text-anchor="middle" fill="#222">10 nmol/L PGE2</text>
<text x="178.20" y="384.30" font-size="6.1" font-weight="bold" text-anchor="middle" fill="#222">333 nmol/L PGE2</text>
<text x="235.20" y="384.30" font-size="6.1" font-weight="bold" text-anchor="middle" fill="#222">1,000 nmol/L PGE2</text>
<line x1="33.70" y1="436.07" x2="310.00" y2="436.07" stroke="#444" stroke-width="0.8" stroke-dasharray="0.9,1.4"/>
<line x1="33.70" y1="467.23" x2="310.00" y2="467.23" stroke="#444" stroke-width="0.8" stroke-dasharray="0.9,1.4"/>
<rect x="38.00" y="436.38" width="8.20" height="51.62" fill="#2f4aa8"/>
<circle cx="40.30" cy="435.45" r="0.90" fill="#8890c0"/>
<circle cx="43.90" cy="436.69" r="0.90" fill="#8890c0"/>
<circle cx="42.10" cy="438.71" r="0.90" fill="#8890c0"/>
<rect x="50.45" y="430.34" width="8.20" height="57.66" fill="#2f4aa8"/>
<line x1="54.55" y1="424.45" x2="54.55" y2="436.23" stroke="#aaa" stroke-width="0.8"/>
<line x1="53.15" y1="424.45" x2="55.95" y2="424.45" stroke="#aaa" stroke-width="0.8"/>
<circle cx="52.75" cy="427.98" r="0.90" fill="#8890c0"/>
<circle cx="56.35" cy="431.13" r="0.90" fill="#8890c0"/>
<circle cx="54.55" cy="436.23" r="0.90" fill="#8890c0"/>
<rect x="62.90" y="436.85" width="8.20" height="51.15" fill="#2f4aa8"/>
<circle cx="65.20" cy="435.92" r="0.90" fill="#8890c0"/>
<circle cx="68.80" cy="437.16" r="0.90" fill="#8890c0"/>
<circle cx="67.00" cy="439.18" r="0.90" fill="#8890c0"/>
<rect x="75.35" y="437.00" width="8.20" height="51.00" fill="#2f4aa8"/>
<circle cx="77.65" cy="436.07" r="0.90" fill="#8890c0"/>
<circle cx="81.25" cy="437.31" r="0.90" fill="#8890c0"/>
<circle cx="79.45" cy="439.33" r="0.90" fill="#8890c0"/>
<rect x="96.70" y="439.95" width="8.20" height="48.05" fill="#8e8e8e"/>
<line x1="100.80" y1="434.06" x2="100.80" y2="445.84" stroke="#222" stroke-width="0.8"/>
<line x1="99.40" y1="434.06" x2="102.20" y2="434.06" stroke="#222" stroke-width="0.8"/>
<circle cx="99.00" cy="437.59" r="0.90" fill="#333"/>
<circle cx="102.60" cy="440.74" r="0.90" fill="#333"/>
<circle cx="100.80" cy="445.84" r="0.90" fill="#333"/>
<rect x="109.15" y="440.26" width="8.20" height="47.74" fill="#8e8e8e"/>
<line x1="113.25" y1="436.38" x2="113.25" y2="444.13" stroke="#222" stroke-width="0.8"/>
<line x1="111.85" y1="436.38" x2="114.65" y2="436.38" stroke="#222" stroke-width="0.8"/>
<circle cx="111.45" cy="438.71" r="0.90" fill="#333"/>
<circle cx="115.05" cy="440.78" r="0.90" fill="#333"/>
<circle cx="113.25" cy="444.13" r="0.90" fill="#333"/>
<rect x="121.60" y="431.43" width="8.20" height="56.57" fill="#8e8e8e"/>
<line x1="125.70" y1="425.23" x2="125.70" y2="437.62" stroke="#222" stroke-width="0.8"/>
<line x1="124.30" y1="425.23" x2="127.10" y2="425.23" stroke="#222" stroke-width="0.8"/>
<circle cx="123.90" cy="428.94" r="0.90" fill="#333"/>
<circle cx="127.50" cy="432.25" r="0.90" fill="#333"/>
<circle cx="125.70" cy="437.62" r="0.90" fill="#333"/>
<rect x="134.05" y="425.69" width="8.20" height="62.31" fill="#8e8e8e"/>
<line x1="138.15" y1="421.04" x2="138.15" y2="430.34" stroke="#222" stroke-width="0.8"/>
<line x1="136.75" y1="421.04" x2="139.55" y2="421.04" stroke="#222" stroke-width="0.8"/>
<circle cx="136.35" cy="423.83" r="0.90" fill="#333"/>
<circle cx="139.95" cy="426.31" r="0.90" fill="#333"/>
<circle cx="138.15" cy="430.34" r="0.90" fill="#333"/>
<rect x="155.00" y="457.62" width="8.20" height="30.38" fill="#f07c82"/>
<circle cx="157.30" cy="456.69" r="0.90" fill="#333"/>
<circle cx="160.90" cy="457.93" r="0.90" fill="#333"/>
<circle cx="159.10" cy="459.94" r="0.90" fill="#333"/>
<rect x="167.45" y="446.15" width="8.20" height="41.85" fill="#f07c82"/>
<line x1="171.55" y1="443.67" x2="171.55" y2="448.63" stroke="#222" stroke-width="0.8"/>
<line x1="170.15" y1="443.67" x2="172.95" y2="443.67" stroke="#222" stroke-width="0.8"/>
<circle cx="169.75" cy="445.16" r="0.90" fill="#333"/>
<circle cx="173.35" cy="446.48" r="0.90" fill="#333"/>
<circle cx="171.55" cy="448.63" r="0.90" fill="#333"/>
<rect x="179.90" y="441.50" width="8.20" height="46.50" fill="#f07c82"/>
<line x1="184.00" y1="436.54" x2="184.00" y2="446.46" stroke="#222" stroke-width="0.8"/>
<line x1="182.60" y1="436.54" x2="185.40" y2="436.54" stroke="#222" stroke-width="0.8"/>
<circle cx="182.20" cy="439.52" r="0.90" fill="#333"/>
<circle cx="185.80" cy="442.16" r="0.90" fill="#333"/>
<circle cx="184.00" cy="446.46" r="0.90" fill="#333"/>
<rect x="192.35" y="442.27" width="8.20" height="45.73" fill="#f07c82"/>
<circle cx="194.65" cy="441.35" r="0.90" fill="#333"/>
<circle cx="198.25" cy="442.58" r="0.90" fill="#333"/>
<circle cx="196.45" cy="444.60" r="0.90" fill="#333"/>
<rect x="213.60" y="466.76" width="8.20" height="21.24" fill="#a11c24"/>
<line x1="217.70" y1="464.44" x2="217.70" y2="469.09" stroke="#222" stroke-width="0.8"/>
<line x1="216.30" y1="464.44" x2="219.10" y2="464.44" stroke="#222" stroke-width="0.8"/>
<circle cx="215.90" cy="465.83" r="0.90" fill="#333"/>
<circle cx="219.50" cy="467.07" r="0.90" fill="#333"/>
<circle cx="217.70" cy="469.09" r="0.90" fill="#333"/>
<rect x="226.05" y="461.65" width="8.20" height="26.35" fill="#a11c24"/>
<circle cx="228.35" cy="460.72" r="0.90" fill="#333"/>
<circle cx="231.95" cy="461.96" r="0.90" fill="#333"/>
<circle cx="230.15" cy="463.98" r="0.90" fill="#333"/>
<rect x="238.50" y="454.06" width="8.20" height="33.94" fill="#a11c24"/>
<circle cx="240.80" cy="453.12" r="0.90" fill="#333"/>
<circle cx="244.40" cy="454.37" r="0.90" fill="#333"/>
<circle cx="242.60" cy="456.38" r="0.90" fill="#333"/>
<rect x="250.95" y="456.85" width="8.20" height="31.15" fill="#a11c24"/>
<circle cx="253.25" cy="455.92" r="0.90" fill="#333"/>
<circle cx="256.85" cy="457.15" r="0.90" fill="#333"/>
<circle cx="255.05" cy="459.17" r="0.90" fill="#333"/>
<rect x="284.40" y="434.99" width="8.20" height="53.01" fill="#1c1c1c"/>
<line x1="288.50" y1="422.44" x2="288.50" y2="434.99" stroke="#999" stroke-width="0.8"/>
<polygon points="287.20,423.48 289.80,423.48 288.50,421.13" fill="#999"/>
<polygon points="287.40,438.97 289.60,438.97 288.50,436.99" fill="#e8e8e8"/>
<polygon points="287.40,444.39 289.60,444.39 288.50,442.41" fill="#e8e8e8"/>
<rect x="296.90" y="460.56" width="8.20" height="27.44" fill="#1c1c1c"/>
<line x1="301.00" y1="453.44" x2="301.00" y2="460.56" stroke="#999" stroke-width="0.8"/>
<polygon points="299.70,454.48 302.30,454.48 301.00,452.13" fill="#999"/>
<polygon points="299.90,465.63 302.10,465.63 301.00,463.65" fill="#e8e8e8"/>
<polygon points="299.90,466.87 302.10,466.87 301.00,464.89" fill="#e8e8e8"/>
<line x1="272.20" y1="486.60" x2="279.80" y2="486.60" stroke="#c8c8c8" stroke-width="1.0" stroke-dasharray="1,0.6"/>
<line x1="33.70" y1="410.00" x2="33.70" y2="488.60" stroke="#2c2c2c" stroke-width="1.3"/>
<line x1="33.10" y1="488.00" x2="310.00" y2="488.00" stroke="#2c2c2c" stroke-width="1.3"/>
<line x1="31.00" y1="488.00" x2="33.70" y2="488.00" stroke="#2c2c2c" stroke-width="1.0"/>
<text x="29.60" y="490.10" font-size="6.0" font-weight="bold" text-anchor="end" fill="#222">0</text>
<line x1="31.00" y1="472.50" x2="33.70" y2="472.50" stroke="#2c2c2c" stroke-width="1.0"/>
<text x="29.60" y="474.60" font-size="6.0" font-weight="bold" text-anchor="end" fill="#222">1,000</text>
<line x1="31.00" y1="457.00" x2="33.70" y2="457.00" stroke="#2c2c2c" stroke-width="1.0"/>
<text x="29.60" y="459.10" font-size="6.0" font-weight="bold" text-anchor="end" fill="#222">2,000</text>
<line x1="31.00" y1="441.50" x2="33.70" y2="441.50" stroke="#2c2c2c" stroke-width="1.0"/>
<text x="29.60" y="443.60" font-size="6.0" font-weight="bold" text-anchor="end" fill="#222">3,000</text>
<line x1="31.00" y1="426.00" x2="33.70" y2="426.00" stroke="#2c2c2c" stroke-width="1.0"/>
<text x="29.60" y="428.10" font-size="6.0" font-weight="bold" text-anchor="end" fill="#222">4,000</text>
<line x1="31.00" y1="410.50" x2="33.70" y2="410.50" stroke="#2c2c2c" stroke-width="1.0"/>
<text x="29.60" y="412.60" font-size="6.0" font-weight="bold" text-anchor="end" fill="#222">5,000</text>
<text x="11.50" y="448.20" font-size="6.0" font-weight="bold" text-anchor="middle" fill="#222" transform="rotate(-90 11.50 448.20)">IFN&#947; pg/mL</text>
<line x1="42.10" y1="488.00" x2="42.10" y2="491.60" stroke="#2c2c2c" stroke-width="1.1"/>
<text x="44.10" y="496.00" font-size="5.2" font-weight="bold" text-anchor="end" fill="#222" transform="rotate(-45 44.10 496.00)">0 &#181;mol/L</text>
<line x1="54.55" y1="488.00" x2="54.55" y2="491.60" stroke="#2c2c2c" stroke-width="1.1"/>
<text x="56.55" y="496.00" font-size="5.2" font-weight="bold" text-anchor="end" fill="#222" transform="rotate(-45 56.55 496.00)">0.001 &#181;mol/L</text>
<line x1="67.00" y1="488.00" x2="67.00" y2="491.60" stroke="#2c2c2c" stroke-width="1.1"/>
<text x="69.00" y="496.00" font-size="5.2" font-weight="bold" text-anchor="end" fill="#222" transform="rotate(-45 69.00 496.00)">0.01 &#181;mol/L</text>
<line x1="79.45" y1="488.00" x2="79.45" y2="491.60" stroke="#2c2c2c" stroke-width="1.1"/>
<text x="81.45" y="496.00" font-size="5.2" font-weight="bold" text-anchor="end" fill="#222" transform="rotate(-45 81.45 496.00)">0.1 &#181;mol/L</text>
<line x1="100.80" y1="488.00" x2="100.80" y2="491.60" stroke="#2c2c2c" stroke-width="1.1"/>
<text x="102.80" y="496.00" font-size="5.2" font-weight="bold" text-anchor="end" fill="#222" transform="rotate(-45 102.80 496.00)">0 &#181;mol/L</text>
<line x1="113.25" y1="488.00" x2="113.25" y2="491.60" stroke="#2c2c2c" stroke-width="1.1"/>
<text x="115.25" y="496.00" font-size="5.2" font-weight="bold" text-anchor="end" fill="#222" transform="rotate(-45 115.25 496.00)">0.001 &#181;mol/L</text>
<line x1="125.70" y1="488.00" x2="125.70" y2="491.60" stroke="#2c2c2c" stroke-width="1.1"/>
<text x="127.70" y="496.00" font-size="5.2" font-weight="bold" text-anchor="end" fill="#222" transform="rotate(-45 127.70 496.00)">0.01 &#181;mol/L</text>
<line x1="138.15" y1="488.00" x2="138.15" y2="491.60" stroke="#2c2c2c" stroke-width="1.1"/>
<text x="140.15" y="496.00" font-size="5.2" font-weight="bold" text-anchor="end" fill="#222" transform="rotate(-45 140.15 496.00)">0.1 &#181;mol/L</text>
<line x1="159.10" y1="488.00" x2="159.10" y2="491.60" stroke="#2c2c2c" stroke-width="1.1"/>
<text x="161.10" y="496.00" font-size="5.2" font-weight="bold" text-anchor="end" fill="#222" transform="rotate(-45 161.10 496.00)">0 &#181;mol/L</text>
<line x1="171.55" y1="488.00" x2="171.55" y2="491.60" stroke="#2c2c2c" stroke-width="1.1"/>
<text x="173.55" y="496.00" font-size="5.2" font-weight="bold" text-anchor="end" fill="#222" transform="rotate(-45 173.55 496.00)">0.001 &#181;mol/L</text>
<line x1="184.00" y1="488.00" x2="184.00" y2="491.60" stroke="#2c2c2c" stroke-width="1.1"/>
<text x="186.00" y="496.00" font-size="5.2" font-weight="bold" text-anchor="end" fill="#222" transform="rotate(-45 186.00 496.00)">0.01 &#181;mol/L</text>
<line x1="196.45" y1="488.00" x2="196.45" y2="491.60" stroke="#2c2c2c" stroke-width="1.1"/>
<text x="198.45" y="496.00" font-size="5.2" font-weight="bold" text-anchor="end" fill="#222" transform="rotate(-45 198.45 496.00)">0.1 &#181;mol/L</text>
<line x1="217.70" y1="488.00" x2="217.70" y2="491.60" stroke="#2c2c2c" stroke-width="1.1"/>
<text x="219.70" y="496.00" font-size="5.2" font-weight="bold" text-anchor="end" fill="#222" transform="rotate(-45 219.70 496.00)">0 &#181;mol/L</text>
<line x1="230.15" y1="488.00" x2="230.15" y2="491.60" stroke="#2c2c2c" stroke-width="1.1"/>
<text x="232.15" y="496.00" font-size="5.2" font-weight="bold" text-anchor="end" fill="#222" transform="rotate(-45 232.15 496.00)">0.001 &#181;mol/L</text>
<line x1="242.60" y1="488.00" x2="242.60" y2="491.60" stroke="#2c2c2c" stroke-width="1.1"/>
<text x="244.60" y="496.00" font-size="5.2" font-weight="bold" text-anchor="end" fill="#222" transform="rotate(-45 244.60 496.00)">0.01 &#181;mol/L</text>
<line x1="255.05" y1="488.00" x2="255.05" y2="491.60" stroke="#2c2c2c" stroke-width="1.1"/>
<text x="257.05" y="496.00" font-size="5.2" font-weight="bold" text-anchor="end" fill="#222" transform="rotate(-45 257.05 496.00)">0.1 &#181;mol/L</text>
<line x1="276.10" y1="488.00" x2="276.10" y2="491.60" stroke="#2c2c2c" stroke-width="1.1"/>
<text x="278.10" y="496.00" font-size="5.2" font-weight="bold" text-anchor="end" fill="#222" transform="rotate(-45 278.10 496.00)">No Stim</text>
<line x1="288.50" y1="488.00" x2="288.50" y2="491.60" stroke="#2c2c2c" stroke-width="1.1"/>
<text x="290.50" y="496.00" font-size="5.2" font-weight="bold" text-anchor="end" fill="#222" transform="rotate(-45 290.50 496.00)">Stim</text>
<line x1="301.00" y1="488.00" x2="301.00" y2="491.60" stroke="#2c2c2c" stroke-width="1.1"/>
<text x="303.00" y="496.00" font-size="5.2" font-weight="bold" text-anchor="end" fill="#222" transform="rotate(-45 303.00 496.00)">Stim+PGE2</text>
<polyline points="81.30,427.50 81.30,398.10 288.50,398.10 288.50,412.30" fill="none" stroke="#333" stroke-width="1.1"/>
<line x1="138.30" y1="398.10" x2="138.30" y2="412.30" stroke="#333" stroke-width="1.1"/>
<line x1="196.30" y1="398.10" x2="196.30" y2="423.50" stroke="#333" stroke-width="1.1"/>
<text x="184.40" y="394.60" font-size="6.6" font-weight="normal" text-anchor="middle" fill="#333">ns</text>
<polyline points="157.90,439.20 157.90,427.70 196.30,427.70 196.30,430.80" fill="none" stroke="#333" stroke-width="1.1"/>
<text x="174.60" y="427.43" font-size="6.6" font-weight="normal" text-anchor="middle" fill="#333">***</text>
<polyline points="255.20,433.80 255.20,415.80 288.50,415.80 288.50,417.40" fill="none" stroke="#333" stroke-width="1.1"/>
<text x="270.80" y="415.03" font-size="6.6" font-weight="normal" text-anchor="middle" fill="#333">*</text>
<polyline points="216.50,455.60 216.50,443.50 255.20,443.50 255.20,447.00" fill="none" stroke="#333" stroke-width="1.1"/>
<text x="235.30" y="443.23" font-size="6.6" font-weight="normal" text-anchor="middle" fill="#333">*</text>
<text x="415.20" y="411.40" font-size="6.6" font-weight="bold" text-anchor="middle" fill="#222">333 nmol/L PGE2</text>
<line x1="357.80" y1="419.90" x2="357.80" y2="489.40" stroke="#2c2c2c" stroke-width="1.2"/>
<line x1="357.20" y1="488.80" x2="460.00" y2="488.80" stroke="#2c2c2c" stroke-width="1.2"/>
<line x1="354.00" y1="488.80" x2="357.80" y2="488.80" stroke="#2c2c2c" stroke-width="1.0"/>
<text x="353.30" y="490.70" font-size="5.4" font-weight="bold" text-anchor="end" fill="#222">0</text>
<line x1="354.00" y1="471.70" x2="357.80" y2="471.70" stroke="#2c2c2c" stroke-width="1.0"/>
<text x="353.30" y="473.60" font-size="5.4" font-weight="bold" text-anchor="end" fill="#222">1,000</text>
<line x1="354.00" y1="454.60" x2="357.80" y2="454.60" stroke="#2c2c2c" stroke-width="1.0"/>
<text x="353.30" y="456.50" font-size="5.4" font-weight="bold" text-anchor="end" fill="#222">2,000</text>
<line x1="354.00" y1="437.50" x2="357.80" y2="437.50" stroke="#2c2c2c" stroke-width="1.0"/>
<text x="353.30" y="439.40" font-size="5.4" font-weight="bold" text-anchor="end" fill="#222">3,000</text>
<line x1="354.00" y1="420.40" x2="357.80" y2="420.40" stroke="#2c2c2c" stroke-width="1.0"/>
<text x="353.30" y="422.30" font-size="5.4" font-weight="bold" text-anchor="end" fill="#222">4,000</text>
<line x1="372.80" y1="488.80" x2="372.80" y2="491.30" stroke="#2c2c2c" stroke-width="1.0"/>
<text x="372.80" y="497.00" font-size="5.6" font-weight="bold" text-anchor="middle" fill="#222">0</text>
<line x1="396.60" y1="488.80" x2="396.60" y2="491.30" stroke="#2c2c2c" stroke-width="1.0"/>
<text x="396.60" y="497.00" font-size="5.6" font-weight="bold" text-anchor="middle" fill="#222">0.001</text>
<line x1="420.20" y1="488.80" x2="420.20" y2="491.30" stroke="#2c2c2c" stroke-width="1.0"/>
<text x="420.20" y="497.00" font-size="5.6" font-weight="bold" text-anchor="middle" fill="#222">0.01</text>
<line x1="443.90" y1="488.80" x2="443.90" y2="491.30" stroke="#2c2c2c" stroke-width="1.0"/>
<text x="443.90" y="497.00" font-size="5.6" font-weight="bold" text-anchor="middle" fill="#222">0.1</text>
<text x="417.00" y="506.50" font-size="6.0" font-weight="bold" text-anchor="middle" fill="#222">[Drug]</text>
<text x="338.40" y="454.00" font-size="5.4" font-weight="bold" text-anchor="middle" fill="#222" transform="rotate(-90 338.40 454.00)">IFN&#947; (pg/mL)</text>
<polyline points="372.80,455.97 396.60,442.80 420.20,437.50 443.90,438.01" fill="none" stroke="#2b46a6" stroke-width="1.1"/>
<line x1="372.80" y1="453.92" x2="372.80" y2="458.02" stroke="#2b46a6" stroke-width="0.7"/>
<line x1="371.30" y1="453.92" x2="374.30" y2="453.92" stroke="#2b46a6" stroke-width="0.7"/>
<line x1="371.30" y1="458.02" x2="374.30" y2="458.02" stroke="#2b46a6" stroke-width="0.7"/>
<circle cx="372.80" cy="455.97" r="1.60" fill="#2b46a6"/>
<line x1="396.60" y1="439.72" x2="396.60" y2="445.88" stroke="#2b46a6" stroke-width="0.7"/>
<line x1="395.10" y1="439.72" x2="398.10" y2="439.72" stroke="#2b46a6" stroke-width="0.7"/>
<line x1="395.10" y1="445.88" x2="398.10" y2="445.88" stroke="#2b46a6" stroke-width="0.7"/>
<circle cx="396.60" cy="442.80" r="1.60" fill="#2b46a6"/>
<line x1="420.20" y1="429.81" x2="420.20" y2="445.19" stroke="#2b46a6" stroke-width="0.7"/>
<line x1="418.70" y1="429.81" x2="421.70" y2="429.81" stroke="#2b46a6" stroke-width="0.7"/>
<line x1="418.70" y1="445.19" x2="421.70" y2="445.19" stroke="#2b46a6" stroke-width="0.7"/>
<circle cx="420.20" cy="437.50" r="1.60" fill="#2b46a6"/>
<line x1="443.90" y1="436.64" x2="443.90" y2="439.38" stroke="#2b46a6" stroke-width="0.7"/>
<line x1="442.40" y1="436.64" x2="445.40" y2="436.64" stroke="#2b46a6" stroke-width="0.7"/>
<line x1="442.40" y1="439.38" x2="445.40" y2="439.38" stroke="#2b46a6" stroke-width="0.7"/>
<circle cx="443.90" cy="438.01" r="1.60" fill="#2b46a6"/>
<polyline points="372.80,463.32 396.60,459.90 420.20,462.64 443.90,458.19" fill="none" stroke="#8c8ad6" stroke-width="1.1"/>
<line x1="372.80" y1="462.30" x2="372.80" y2="464.35" stroke="#8c8ad6" stroke-width="0.7"/>
<line x1="371.30" y1="462.30" x2="374.30" y2="462.30" stroke="#8c8ad6" stroke-width="0.7"/>
<line x1="371.30" y1="464.35" x2="374.30" y2="464.35" stroke="#8c8ad6" stroke-width="0.7"/>
<rect x="371.30" y="461.82" width="3.00" height="3.00" fill="#8c8ad6"/>
<line x1="396.60" y1="457.85" x2="396.60" y2="461.95" stroke="#8c8ad6" stroke-width="0.7"/>
<line x1="395.10" y1="457.85" x2="398.10" y2="457.85" stroke="#8c8ad6" stroke-width="0.7"/>
<line x1="395.10" y1="461.95" x2="398.10" y2="461.95" stroke="#8c8ad6" stroke-width="0.7"/>
<rect x="395.10" y="458.40" width="3.00" height="3.00" fill="#8c8ad6"/>
<line x1="420.20" y1="460.93" x2="420.20" y2="464.35" stroke="#8c8ad6" stroke-width="0.7"/>
<line x1="418.70" y1="460.93" x2="421.70" y2="460.93" stroke="#8c8ad6" stroke-width="0.7"/>
<line x1="418.70" y1="464.35" x2="421.70" y2="464.35" stroke="#8c8ad6" stroke-width="0.7"/>
<rect x="418.70" y="461.14" width="3.00" height="3.00" fill="#8c8ad6"/>
<line x1="443.90" y1="455.63" x2="443.90" y2="460.76" stroke="#8c8ad6" stroke-width="0.7"/>
<line x1="442.40" y1="455.63" x2="445.40" y2="455.63" stroke="#8c8ad6" stroke-width="0.7"/>
<line x1="442.40" y1="460.76" x2="445.40" y2="460.76" stroke="#8c8ad6" stroke-width="0.7"/>
<rect x="442.40" y="456.69" width="3.00" height="3.00" fill="#8c8ad6"/>
<polyline points="372.80,460.76 396.60,458.88 420.20,462.30 443.90,454.43" fill="none" stroke="#f07880" stroke-width="1.1"/>
<line x1="372.80" y1="459.73" x2="372.80" y2="461.78" stroke="#f07880" stroke-width="0.7"/>
<line x1="371.30" y1="459.73" x2="374.30" y2="459.73" stroke="#f07880" stroke-width="0.7"/>
<line x1="371.30" y1="461.78" x2="374.30" y2="461.78" stroke="#f07880" stroke-width="0.7"/>
<polygon points="371.10,462.06 374.50,462.06 372.80,459.06" fill="#f07880"/>
<line x1="396.60" y1="455.46" x2="396.60" y2="462.30" stroke="#f07880" stroke-width="0.7"/>
<line x1="395.10" y1="455.46" x2="398.10" y2="455.46" stroke="#f07880" stroke-width="0.7"/>
<line x1="395.10" y1="462.30" x2="398.10" y2="462.30" stroke="#f07880" stroke-width="0.7"/>
<polygon points="394.90,460.18 398.30,460.18 396.60,457.18" fill="#f07880"/>
<line x1="420.20" y1="460.24" x2="420.20" y2="464.35" stroke="#f07880" stroke-width="0.7"/>
<line x1="418.70" y1="460.24" x2="421.70" y2="460.24" stroke="#f07880" stroke-width="0.7"/>
<line x1="418.70" y1="464.35" x2="421.70" y2="464.35" stroke="#f07880" stroke-width="0.7"/>
<polygon points="418.50,463.60 421.90,463.60 420.20,460.60" fill="#f07880"/>
<line x1="443.90" y1="452.38" x2="443.90" y2="456.48" stroke="#f07880" stroke-width="0.7"/>
<line x1="442.40" y1="452.38" x2="445.40" y2="452.38" stroke="#f07880" stroke-width="0.7"/>
<line x1="442.40" y1="456.48" x2="445.40" y2="456.48" stroke="#f07880" stroke-width="0.7"/>
<polygon points="442.20,455.73 445.60,455.73 443.90,452.73" fill="#f07880"/>
<text x="419.60" y="428.40" font-size="6.2" font-weight="normal" text-anchor="middle" fill="#333">***</text>
<text x="443.40" y="428.60" font-size="6.2" font-weight="normal" text-anchor="middle" fill="#333">**</text>
<line x1="464.20" y1="438.70" x2="472.20" y2="438.70" stroke="#2b46a6" stroke-width="1.1"/>
<circle cx="468.20" cy="438.70" r="1.60" fill="#2b46a6"/>
<text x="476.50" y="441.00" font-size="6.25" font-weight="normal" text-anchor="start" fill="#222">TPST-1495</text>
<line x1="464.20" y1="449.00" x2="472.20" y2="449.00" stroke="#8c8ad6" stroke-width="1.1"/>
<rect x="466.70" y="447.50" width="3.00" height="3.00" fill="#8c8ad6"/>
<text x="476.50" y="451.30" font-size="6.25" font-weight="normal" text-anchor="start" fill="#222">E7046</text>
<line x1="464.20" y1="459.20" x2="472.20" y2="459.20" stroke="#f07880" stroke-width="1.1"/>
<polygon points="466.5,460.50 469.9,460.50 468.2,457.50" fill="#f07880"/>
<text x="476.50" y="461.50" font-size="6.25" font-weight="normal" text-anchor="start" fill="#222">PF04418948</text>
</svg></body></html>
